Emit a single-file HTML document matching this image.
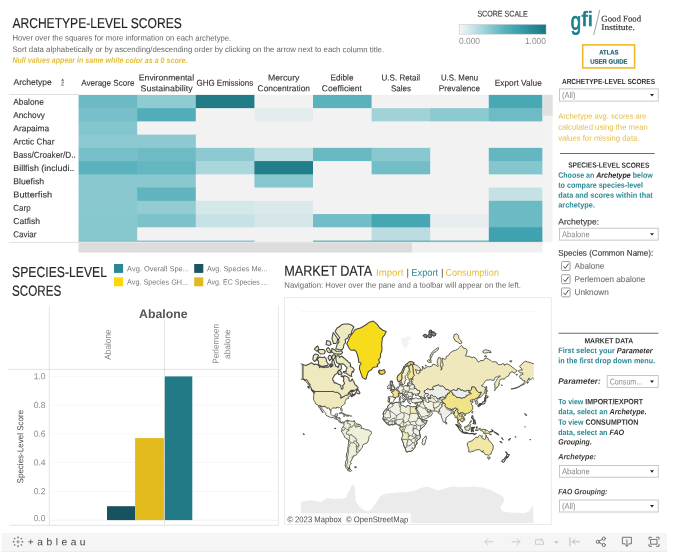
<!DOCTYPE html>
<html lang="en">
<head>
<meta charset="utf-8">
<title>Seafood Atlas Dashboard</title>
<style>
*{box-sizing:border-box;margin:0;padding:0}
html,body{width:680px;height:560px;background:#fff;overflow:hidden}
body{font-family:"Liberation Sans",Arial,sans-serif;position:relative}
#dash{position:absolute;left:0;top:0;width:680px;height:560px;overflow:hidden;background:#fff}
.t{position:absolute;left:0;top:0;white-space:nowrap;line-height:1;transform-origin:0 0}
svg.l{position:absolute;left:0;top:0;overflow:hidden}
</style>
</head>
<body>
<div id="dash">
<section id="archetype-scores" aria-label="Archetype-level scores">
<div class="t" style="font-size:14.30px;color:#262626;transform:translate(12.40px,15.90px) rotate(0.04deg) scaleX(0.8448);-webkit-text-stroke:0.15px #262626;">ARCHETYPE-LEVEL SCORES</div>
<div class="t" style="font-size:8.00px;color:#666;transform:translate(12.40px,34.50px) rotate(0.04deg) scaleX(0.9629);">Hover over the squares for more information on each archetype.</div>
<div class="t" style="font-size:8.00px;color:#666;transform:translate(12.40px,45.90px) rotate(0.04deg) scaleX(0.9719);">Sort data alphabetically or by ascending/descending order by clicking on the arrow next to each column title.</div>
<div class="t" style="font-size:8.00px;color:#e4bc34;font-weight:700;font-style:italic;transform:translate(12.40px,56.80px) rotate(0.04deg) scaleX(0.8864);">Null values appear in same white color as a 0 score.</div>
<div class="t" style="font-size:8.30px;color:#3c3c3c;transform:translate(477.40px,9.60px) rotate(0.04deg) scaleX(0.8537);-webkit-text-stroke:0.15px #3c3c3c;">SCORE SCALE</div>
<svg class="l" width="680" height="560" viewBox="0 0 680 560">
<defs><linearGradient id="sg" x1="0" x2="1" y1="0" y2="0"><stop offset="0" stop-color="#f6f6f6"/><stop offset="0.26" stop-color="#a6d8de"/><stop offset="0.52" stop-color="#57b2bd"/><stop offset="0.76" stop-color="#2f98a4"/><stop offset="1" stop-color="#1a7580"/></linearGradient></defs><rect x="459.15" y="24.45" width="86.9" height="9.7" fill="url(#sg)" stroke="#c4c4c4" stroke-width="0.5"/>
</svg>
<div class="t" style="font-size:8.80px;color:#8a8a8a;transform:translate(459.00px,37.10px) rotate(0.04deg) scaleX(0.9536);">0.000</div>
<div class="t" style="font-size:8.80px;color:#8a8a8a;transform:translate(524.90px,37.10px) rotate(0.04deg) scaleX(0.9582);">1.000</div>
<svg class="l" width="680" height="560" viewBox="0 0 680 560">
<rect x="78.60" y="94.90" width="464.00" height="147.04" fill="#f2f2f2"/>
<rect x="78.60" y="94.90" width="59.30" height="13.94" fill="#6bbac4"/><rect x="137.20" y="94.90" width="59.30" height="13.94" fill="#91cbd2"/><rect x="195.80" y="94.90" width="59.30" height="13.94" fill="#217c88"/><rect x="254.40" y="94.90" width="59.30" height="13.94" fill="#f2f2f2"/><rect x="313.00" y="94.90" width="59.30" height="13.94" fill="#5ab2bd"/><rect x="371.60" y="94.90" width="59.30" height="13.94" fill="#f2f2f2"/><rect x="430.20" y="94.90" width="59.30" height="13.94" fill="#f2f2f2"/><rect x="488.80" y="94.90" width="53.80" height="13.94" fill="#48a8b4"/><rect x="78.60" y="108.14" width="59.30" height="13.94" fill="#78c0c9"/><rect x="137.20" y="108.14" width="59.30" height="13.94" fill="#51adb8"/><rect x="195.80" y="108.14" width="59.30" height="13.94" fill="#f2f2f2"/><rect x="254.40" y="108.14" width="59.30" height="13.94" fill="#e4edee"/><rect x="313.00" y="108.14" width="59.30" height="13.94" fill="#f2f2f2"/><rect x="371.60" y="108.14" width="59.30" height="13.94" fill="#a0d2d8"/><rect x="430.20" y="108.14" width="59.30" height="13.94" fill="#8cc9d0"/><rect x="488.80" y="108.14" width="53.80" height="13.94" fill="#6ebbc5"/><rect x="78.60" y="121.38" width="59.30" height="13.94" fill="#84c6ce"/><rect x="137.20" y="121.38" width="59.30" height="13.94" fill="#f2f2f2"/><rect x="195.80" y="121.38" width="59.30" height="13.94" fill="#f2f2f2"/><rect x="254.40" y="121.38" width="59.30" height="13.94" fill="#f2f2f2"/><rect x="313.00" y="121.38" width="59.30" height="13.94" fill="#f2f2f2"/><rect x="371.60" y="121.38" width="59.30" height="13.94" fill="#f2f2f2"/><rect x="430.20" y="121.38" width="59.30" height="13.94" fill="#f2f2f2"/><rect x="488.80" y="121.38" width="53.80" height="13.94" fill="#f2f2f2"/><rect x="78.60" y="134.62" width="59.30" height="13.94" fill="#8cc9d0"/><rect x="137.20" y="134.62" width="59.30" height="13.94" fill="#8cc9d0"/><rect x="195.80" y="134.62" width="59.30" height="13.94" fill="#f2f2f2"/><rect x="254.40" y="134.62" width="59.30" height="13.94" fill="#f2f2f2"/><rect x="313.00" y="134.62" width="59.30" height="13.94" fill="#f2f2f2"/><rect x="371.60" y="134.62" width="59.30" height="13.94" fill="#f2f2f2"/><rect x="430.20" y="134.62" width="59.30" height="13.94" fill="#f2f2f2"/><rect x="488.80" y="134.62" width="53.80" height="13.94" fill="#f2f2f2"/><rect x="78.60" y="147.86" width="59.30" height="13.94" fill="#78c0c9"/><rect x="137.20" y="147.86" width="59.30" height="13.94" fill="#6ebbc5"/><rect x="195.80" y="147.86" width="59.30" height="13.94" fill="#8cc9d0"/><rect x="254.40" y="147.86" width="59.30" height="13.94" fill="#bddee2"/><rect x="313.00" y="147.86" width="59.30" height="13.94" fill="#69b9c3"/><rect x="371.60" y="147.86" width="59.30" height="13.94" fill="#8ac8cf"/><rect x="430.20" y="147.86" width="59.30" height="13.94" fill="#f2f2f2"/><rect x="488.80" y="147.86" width="53.80" height="13.94" fill="#64b6c1"/><rect x="78.60" y="161.10" width="59.30" height="13.94" fill="#5ab2bd"/><rect x="137.20" y="161.10" width="59.30" height="13.94" fill="#64b6c1"/><rect x="195.80" y="161.10" width="59.30" height="13.94" fill="#aad7dc"/><rect x="254.40" y="161.10" width="59.30" height="13.94" fill="#227e8a"/><rect x="313.00" y="161.10" width="59.30" height="13.94" fill="#f2f2f2"/><rect x="371.60" y="161.10" width="59.30" height="13.94" fill="#73bdc7"/><rect x="430.20" y="161.10" width="59.30" height="13.94" fill="#f2f2f2"/><rect x="488.80" y="161.10" width="53.80" height="13.94" fill="#84c6ce"/><rect x="78.60" y="174.34" width="59.30" height="13.94" fill="#8ac8cf"/><rect x="137.20" y="174.34" width="59.30" height="13.94" fill="#8ac8cf"/><rect x="195.80" y="174.34" width="59.30" height="13.94" fill="#f2f2f2"/><rect x="254.40" y="174.34" width="59.30" height="13.94" fill="#87c7ce"/><rect x="313.00" y="174.34" width="59.30" height="13.94" fill="#f2f2f2"/><rect x="371.60" y="174.34" width="59.30" height="13.94" fill="#f2f2f2"/><rect x="430.20" y="174.34" width="59.30" height="13.94" fill="#f2f2f2"/><rect x="488.80" y="174.34" width="53.80" height="13.94" fill="#f2f2f2"/><rect x="78.60" y="187.58" width="59.30" height="13.94" fill="#8ac8cf"/><rect x="137.20" y="187.58" width="59.30" height="13.94" fill="#5fb4bf"/><rect x="195.80" y="187.58" width="59.30" height="13.94" fill="#f2f2f2"/><rect x="254.40" y="187.58" width="59.30" height="13.94" fill="#f2f2f2"/><rect x="313.00" y="187.58" width="59.30" height="13.94" fill="#f2f2f2"/><rect x="371.60" y="187.58" width="59.30" height="13.94" fill="#f2f2f2"/><rect x="430.20" y="187.58" width="59.30" height="13.94" fill="#f2f2f2"/><rect x="488.80" y="187.58" width="53.80" height="13.94" fill="#c4e1e4"/><rect x="78.60" y="200.82" width="59.30" height="13.94" fill="#8ac8cf"/><rect x="137.20" y="200.82" width="59.30" height="13.94" fill="#94ccd3"/><rect x="195.80" y="200.82" width="59.30" height="13.94" fill="#d5e7e9"/><rect x="254.40" y="200.82" width="59.30" height="13.94" fill="#dae9eb"/><rect x="313.00" y="200.82" width="59.30" height="13.94" fill="#f2f2f2"/><rect x="371.60" y="200.82" width="59.30" height="13.94" fill="#f2f2f2"/><rect x="430.20" y="200.82" width="59.30" height="13.94" fill="#f2f2f2"/><rect x="488.80" y="200.82" width="53.80" height="13.94" fill="#6bbac4"/><rect x="78.60" y="214.06" width="59.30" height="13.94" fill="#87c7ce"/><rect x="137.20" y="214.06" width="59.30" height="13.94" fill="#7dc2cb"/><rect x="195.80" y="214.06" width="59.30" height="13.94" fill="#c7e2e5"/><rect x="254.40" y="214.06" width="59.30" height="13.94" fill="#d5e7e9"/><rect x="313.00" y="214.06" width="59.30" height="13.94" fill="#73bdc7"/><rect x="371.60" y="214.06" width="59.30" height="13.94" fill="#46a7b3"/><rect x="430.20" y="214.06" width="59.30" height="13.94" fill="#e8eeef"/><rect x="488.80" y="214.06" width="53.80" height="13.94" fill="#6bbac4"/><rect x="78.60" y="227.30" width="59.30" height="13.94" fill="#87c7ce"/><rect x="137.20" y="227.30" width="59.30" height="13.94" fill="#f2f2f2"/><rect x="195.80" y="227.30" width="59.30" height="13.94" fill="#f2f2f2"/><rect x="254.40" y="227.30" width="59.30" height="13.94" fill="#f2f2f2"/><rect x="313.00" y="227.30" width="59.30" height="13.94" fill="#f2f2f2"/><rect x="371.60" y="227.30" width="59.30" height="13.94" fill="#bbdde1"/><rect x="430.20" y="227.30" width="59.30" height="13.94" fill="#f2f2f2"/><rect x="488.80" y="227.30" width="53.80" height="13.94" fill="#3fa3af"/>
<rect x="78.60" y="240.54" width="59.10" height="1.40" fill="#87c7ce"/>
<rect x="137.20" y="240.54" width="117.70" height="1.40" fill="#7fc1c9"/>
<rect x="254.40" y="240.54" width="59.10" height="1.40" fill="#f2f2f2"/>
<rect x="313.00" y="240.54" width="176.30" height="1.40" fill="#5cb1bb"/>
<rect x="488.80" y="240.54" width="53.80" height="1.40" fill="#3a9aa6"/>
<rect x="78.60" y="241.94" width="464.00" height="0.60" fill="#fff"/>
<rect x="9.00" y="94.10" width="69.60" height="0.80" fill="#d9d9d9"/>
<rect x="9.00" y="241.90" width="533.60" height="0.70" fill="#d2d2d2"/>
<rect x="542.60" y="94.90" width="10.00" height="147.00" fill="#f3f3f3"/>
<rect x="542.60" y="94.90" width="10.00" height="20.90" fill="#e0e0e0"/>
<rect x="78.60" y="242.60" width="464.00" height="9.80" fill="#f0f0f0"/>
<rect x="78.60" y="242.60" width="333.40" height="9.80" fill="#dcdcdc"/>
</svg>
<div class="t" style="font-size:8.50px;color:#333;transform:translate(13.50px,78.10px) rotate(0.04deg) scaleX(1.0008);-webkit-text-stroke:0.12px #333;">Archetype</div>
<svg class="l" width="680" height="560" viewBox="0 0 680 560">
<g transform="translate(60.1 78.2)"><path d="M2.5 0.4 L4 2.6 H1 Z" fill="#666"/><path d="M1.2 3.9 H3.8 L1.2 7 H3.9" fill="none" stroke="#666" stroke-width="0.7"/></g>
</svg>
<div class="t" style="font-size:8.50px;color:#333;transform:translate(81.20px,78.70px) rotate(0.04deg) scaleX(0.9488);-webkit-text-stroke:0.12px #333;">Average Score</div>
<div class="t" style="font-size:8.50px;color:#333;transform:translate(138.80px,73.50px) rotate(0.04deg) scaleX(1.0178);-webkit-text-stroke:0.12px #333;">Environmental</div>
<div class="t" style="font-size:8.50px;color:#333;transform:translate(140.60px,84.20px) rotate(0.04deg) scaleX(1.0383);-webkit-text-stroke:0.12px #333;">Sustainability</div>
<div class="t" style="font-size:8.50px;color:#333;transform:translate(196.50px,78.70px) rotate(0.04deg) scaleX(0.9379);-webkit-text-stroke:0.12px #333;">GHG Emissions</div>
<div class="t" style="font-size:8.50px;color:#333;transform:translate(268.00px,73.50px) rotate(0.04deg) scaleX(1.0229);-webkit-text-stroke:0.12px #333;">Mercury</div>
<div class="t" style="font-size:8.50px;color:#333;transform:translate(257.60px,84.20px) rotate(0.04deg) scaleX(0.9901);-webkit-text-stroke:0.12px #333;">Concentration</div>
<div class="t" style="font-size:8.50px;color:#333;transform:translate(330.60px,73.50px) rotate(0.04deg) scaleX(0.9692);-webkit-text-stroke:0.12px #333;">Edible</div>
<div class="t" style="font-size:8.50px;color:#333;transform:translate(321.80px,84.20px) rotate(0.04deg) scaleX(1.0049);-webkit-text-stroke:0.12px #333;">Coefficient</div>
<div class="t" style="font-size:8.50px;color:#333;transform:translate(381.50px,73.50px) rotate(0.04deg) scaleX(0.9477);-webkit-text-stroke:0.12px #333;">U.S. Retail</div>
<div class="t" style="font-size:8.50px;color:#333;transform:translate(390.90px,84.20px) rotate(0.04deg) scaleX(0.9406);-webkit-text-stroke:0.12px #333;">Sales</div>
<div class="t" style="font-size:8.50px;color:#333;transform:translate(440.90px,73.50px) rotate(0.04deg) scaleX(0.9239);-webkit-text-stroke:0.12px #333;">U.S. Menu</div>
<div class="t" style="font-size:8.50px;color:#333;transform:translate(438.80px,84.20px) rotate(0.04deg) scaleX(0.9688);-webkit-text-stroke:0.12px #333;">Prevalence</div>
<div class="t" style="font-size:8.50px;color:#333;transform:translate(494.70px,78.70px) rotate(0.04deg) scaleX(0.9805);-webkit-text-stroke:0.12px #333;">Export Value</div>
<div class="t" style="font-size:8.50px;color:#333;transform:translate(13.30px,97.82px) rotate(0.04deg) scaleX(0.9777);-webkit-text-stroke:0.12px #333;">Abalone</div>
<div class="t" style="font-size:8.50px;color:#333;transform:translate(13.30px,111.06px) rotate(0.04deg) scaleX(0.9693);-webkit-text-stroke:0.12px #333;">Anchovy</div>
<div class="t" style="font-size:8.50px;color:#333;transform:translate(13.30px,124.30px) rotate(0.04deg) scaleX(0.9896);-webkit-text-stroke:0.12px #333;">Arapaima</div>
<div class="t" style="font-size:8.50px;color:#333;transform:translate(13.30px,137.54px) rotate(0.04deg) scaleX(0.9778);-webkit-text-stroke:0.12px #333;">Arctic Char</div>
<div class="t" style="font-size:8.50px;color:#333;transform:translate(13.30px,150.78px) rotate(0.04deg) scaleX(0.9643);-webkit-text-stroke:0.12px #333;">Bass/Croaker/D..</div>
<div class="t" style="font-size:8.50px;color:#333;transform:translate(13.30px,164.02px) rotate(0.04deg) scaleX(1.0414);-webkit-text-stroke:0.12px #333;">Billfish (includi..</div>
<div class="t" style="font-size:8.50px;color:#333;transform:translate(13.30px,177.26px) rotate(0.04deg) scaleX(1.0185);-webkit-text-stroke:0.12px #333;">Bluefish</div>
<div class="t" style="font-size:8.50px;color:#333;transform:translate(13.30px,190.50px) rotate(0.04deg) scaleX(1.0834);-webkit-text-stroke:0.12px #333;">Butterfish</div>
<div class="t" style="font-size:8.50px;color:#333;transform:translate(13.30px,203.74px) rotate(0.04deg) scaleX(0.9390);-webkit-text-stroke:0.12px #333;">Carp</div>
<div class="t" style="font-size:8.50px;color:#333;transform:translate(13.30px,216.98px) rotate(0.04deg) scaleX(1.0093);-webkit-text-stroke:0.12px #333;">Catfish</div>
<div class="t" style="font-size:8.50px;color:#333;transform:translate(13.30px,230.22px) rotate(0.04deg) scaleX(0.9445);-webkit-text-stroke:0.12px #333;">Caviar</div>
</section>
<aside id="filters" aria-label="Filters and guide">
<div class="t" style="font-size:25.00px;color:#187e89;transform:translate(570.70px,8.60px) rotate(0.04deg) scaleX(0.7408);-webkit-text-stroke:0.8px #187e89;">g</div>
<div class="t" style="font-size:20.60px;color:#187e89;transform:translate(581.60px,8.90px) rotate(0.04deg) scaleX(1.0874);-webkit-text-stroke:0.6px #187e89;">fi</div>
<svg class="l" width="680" height="560" viewBox="0 0 680 560">
<g transform="translate(591 8)"><line x1="8.7" y1="2" x2="2.7" y2="27.1" stroke="#8a8a8a" stroke-width="0.8"/></g>
</svg>
<div class="t" style="font-size:8.60px;color:#3c3c3c;font-family:'Liberation Serif',serif;transform:translate(601.30px,14.50px) rotate(0.04deg) scaleX(1.0246);-webkit-text-stroke:0.2px #3c3c3c;">Good Food</div>
<div class="t" style="font-size:8.60px;color:#3c3c3c;font-family:'Liberation Serif',serif;transform:translate(601.30px,22.90px) rotate(0.04deg) scaleX(1.1043);-webkit-text-stroke:0.2px #3c3c3c;">Institute.</div>
<svg class="l" width="680" height="560" viewBox="0 0 680 560">
<rect x="582.70" y="44.90" width="51.90" height="23.00" fill="#fff" stroke="#f1b929" stroke-width="1.6"/>
</svg>
<div class="t" style="font-size:6.60px;color:#1a5f6a;font-weight:700;transform:translate(599.30px,49.60px) rotate(0.04deg) scaleX(0.8927);-webkit-text-stroke:0.15px #1a5f6a;">ATLAS</div>
<div class="t" style="font-size:6.60px;color:#1a5f6a;font-weight:700;transform:translate(590.20px,58.80px) rotate(0.04deg) scaleX(0.9106);-webkit-text-stroke:0.15px #1a5f6a;">USER GUIDE</div>
<div class="t" style="font-size:7.40px;color:#333;font-weight:700;transform:translate(561.90px,78.00px) rotate(0.04deg) scaleX(0.8875);">ARCHETYPE-LEVEL SCORES</div>
<svg class="l" width="680" height="560" viewBox="0 0 680 560">
<rect x="559.40" y="88.90" width="98.80" height="12.20" fill="#fff" stroke="#b9b9b9" stroke-width="0.8"/>
</svg>
<div class="t" style="font-size:8.60px;color:#8c8c8c;transform:translate(561.90px,91.00px) rotate(0.04deg) scaleX(0.8850);">(All)</div>
<svg class="l" width="680" height="560" viewBox="0 0 680 560">
<g transform="translate(649.00 93.30)"><path d="M1 0.7 H5 L3 3.1 Z" fill="#222"/></g>
</svg>
<div class="t" style="font-size:8.00px;color:#e6bd45;transform:translate(558.20px,112.80px) rotate(0.04deg) scaleX(0.9512);">Archetype avg. scores are</div>
<div class="t" style="font-size:8.00px;color:#e6bd45;transform:translate(558.20px,123.80px) rotate(0.04deg) scaleX(0.9650);">calculated using the mean</div>
<div class="t" style="font-size:8.00px;color:#e6bd45;transform:translate(558.20px,134.70px) rotate(0.04deg) scaleX(0.9674);">values for missing data.</div>
<svg class="l" width="680" height="560" viewBox="0 0 680 560">
<rect x="560.00" y="153.10" width="94.60" height="0.80" fill="#444"/>
</svg>
<div class="t" style="font-size:7.40px;color:#333;font-weight:700;transform:translate(568.20px,161.60px) rotate(0.04deg) scaleX(0.8868);">SPECIES-LEVEL SCORES</div>
<div class="t" style="font-size:7.80px;color:#2a8894;font-weight:700;transform:translate(558.20px,171.70px) rotate(0.04deg) scaleX(0.9047);">Choose an <span style="font-style:italic;color:#222;">Archetype</span> below</div>
<div class="t" style="font-size:7.80px;color:#2a8894;font-weight:700;transform:translate(558.20px,181.70px) rotate(0.04deg) scaleX(0.9151);">to compare species-level</div>
<div class="t" style="font-size:7.80px;color:#2a8894;font-weight:700;transform:translate(558.20px,191.80px) rotate(0.04deg) scaleX(0.9398);">data and scores within that</div>
<div class="t" style="font-size:7.80px;color:#2a8894;font-weight:700;transform:translate(558.20px,201.60px) rotate(0.04deg) scaleX(0.9431);">archetype.</div>
<div class="t" style="font-size:8.30px;color:#3d3d3d;transform:translate(558.20px,217.60px) rotate(0.04deg) scaleX(1.0308);-webkit-text-stroke:0.15px #3d3d3d;">Archetype:</div>
<svg class="l" width="680" height="560" viewBox="0 0 680 560">
<rect x="559.40" y="228.20" width="98.80" height="11.90" fill="#fff" stroke="#b9b9b9" stroke-width="0.8"/>
</svg>
<div class="t" style="font-size:8.60px;color:#8c8c8c;transform:translate(561.90px,230.15px) rotate(0.04deg) scaleX(0.8850);">Abalone</div>
<svg class="l" width="680" height="560" viewBox="0 0 680 560">
<g transform="translate(649.00 232.45)"><path d="M1 0.7 H5 L3 3.1 Z" fill="#222"/></g>
</svg>
<div class="t" style="font-size:8.30px;color:#3d3d3d;transform:translate(558.20px,248.70px) rotate(0.04deg) scaleX(0.9725);-webkit-text-stroke:0.15px #3d3d3d;">Species (Common Name):</div>
<svg class="l" width="680" height="560" viewBox="0 0 680 560">
<rect x="561.55" y="261.55" width="8.50" height="8.90" rx="1" fill="#fff" stroke="#959595" stroke-width="0.9"/>
<g transform="translate(561 261.10)"><path d="M2.4 5.2 L4.2 7.3 L7.6 2.5" fill="none" stroke="#444" stroke-width="1"/></g>
</svg>
<div class="t" style="font-size:8.40px;color:#707070;transform:translate(574.50px,261.70px) rotate(0.04deg) scaleX(0.9732);-webkit-text-stroke:0.1px #707070;">Abalone</div>
<svg class="l" width="680" height="560" viewBox="0 0 680 560">
<rect x="561.55" y="274.75" width="8.50" height="8.90" rx="1" fill="#fff" stroke="#959595" stroke-width="0.9"/>
<g transform="translate(561 274.30)"><path d="M2.4 5.2 L4.2 7.3 L7.6 2.5" fill="none" stroke="#444" stroke-width="1"/></g>
</svg>
<div class="t" style="font-size:8.40px;color:#707070;transform:translate(574.50px,274.90px) rotate(0.04deg) scaleX(0.9760);-webkit-text-stroke:0.1px #707070;">Perlemoen abalone</div>
<svg class="l" width="680" height="560" viewBox="0 0 680 560">
<rect x="561.55" y="287.95" width="8.50" height="8.90" rx="1" fill="#fff" stroke="#959595" stroke-width="0.9"/>
<g transform="translate(561 287.50)"><path d="M2.4 5.2 L4.2 7.3 L7.6 2.5" fill="none" stroke="#444" stroke-width="1"/></g>
</svg>
<div class="t" style="font-size:8.40px;color:#707070;transform:translate(574.50px,288.10px) rotate(0.04deg) scaleX(0.9823);-webkit-text-stroke:0.1px #707070;">Unknown</div>
<svg class="l" width="680" height="560" viewBox="0 0 680 560">
<rect x="558.60" y="332.80" width="99.80" height="0.80" fill="#444"/>
</svg>
<div class="t" style="font-size:7.40px;color:#333;font-weight:700;transform:translate(584.40px,337.20px) rotate(0.04deg) scaleX(0.9179);">MARKET DATA</div>
<div class="t" style="font-size:7.80px;color:#2a8894;font-weight:700;transform:translate(558.20px,347.10px) rotate(0.04deg) scaleX(0.9395);">First select your <span style="font-style:italic;color:#333;">Parameter</span></div>
<div class="t" style="font-size:7.80px;color:#2a8894;font-weight:700;transform:translate(558.20px,357.20px) rotate(0.04deg) scaleX(0.9250);">in the first drop down menu.</div>
<div class="t" style="font-size:8.00px;color:#333;font-weight:700;font-style:italic;transform:translate(558.20px,377.70px) rotate(0.04deg) scaleX(1.0167);">Parameter:</div>
<svg class="l" width="680" height="560" viewBox="0 0 680 560">
<rect x="607.20" y="375.60" width="51.00" height="11.80" fill="#fff" stroke="#b9b9b9" stroke-width="0.8"/>
</svg>
<div class="t" style="font-size:8.60px;color:#8c8c8c;transform:translate(609.70px,377.50px) rotate(0.04deg) scaleX(0.8318);">Consum...</div>
<svg class="l" width="680" height="560" viewBox="0 0 680 560">
<g transform="translate(649.00 379.80)"><path d="M1 0.7 H5 L3 3.1 Z" fill="#222"/></g>
</svg>
<div class="t" style="font-size:7.80px;color:#2a8894;font-weight:700;transform:translate(558.20px,398.30px) rotate(0.04deg) scaleX(0.8959);">To view <span style="color:#333;">IMPORT/EXPORT</span></div>
<div class="t" style="font-size:7.80px;color:#2a8894;font-weight:700;transform:translate(558.20px,408.20px) rotate(0.04deg) scaleX(0.9185);">data, select an <span style="font-style:italic;color:#333;">Archetype</span><span style="color:#333;">.</span></div>
<div class="t" style="font-size:7.80px;color:#2a8894;font-weight:700;transform:translate(558.20px,418.70px) rotate(0.04deg) scaleX(0.9031);">To view <span style="color:#333;">CONSUMPTION</span></div>
<div class="t" style="font-size:7.80px;color:#2a8894;font-weight:700;transform:translate(558.20px,428.90px) rotate(0.04deg) scaleX(0.9172);">data, select an <span style="font-style:italic;color:#333;">FAO</span></div>
<div class="t" style="font-size:7.80px;color:#333;font-weight:700;transform:translate(558.20px,438.60px) rotate(0.04deg) scaleX(0.8991);"><span style="font-style:italic;">Grouping</span>.</div>
<div class="t" style="font-size:7.80px;color:#444;font-weight:700;font-style:italic;transform:translate(558.20px,453.30px) rotate(0.04deg) scaleX(0.9253);">Archetype:</div>
<svg class="l" width="680" height="560" viewBox="0 0 680 560">
<rect x="559.40" y="465.40" width="98.80" height="11.80" fill="#fff" stroke="#b9b9b9" stroke-width="0.8"/>
</svg>
<div class="t" style="font-size:8.60px;color:#8c8c8c;transform:translate(561.90px,467.30px) rotate(0.04deg) scaleX(0.8850);">Abalone</div>
<svg class="l" width="680" height="560" viewBox="0 0 680 560">
<g transform="translate(649.00 469.60)"><path d="M1 0.7 H5 L3 3.1 Z" fill="#222"/></g>
</svg>
<div class="t" style="font-size:7.80px;color:#444;font-weight:700;font-style:italic;transform:translate(558.20px,488.30px) rotate(0.04deg) scaleX(0.8803);">FAO Grouping:</div>
<svg class="l" width="680" height="560" viewBox="0 0 680 560">
<rect x="559.40" y="500.00" width="98.80" height="12.00" fill="#fff" stroke="#b9b9b9" stroke-width="0.8"/>
</svg>
<div class="t" style="font-size:8.60px;color:#8c8c8c;transform:translate(561.90px,502.00px) rotate(0.04deg) scaleX(0.8850);">(All)</div>
<svg class="l" width="680" height="560" viewBox="0 0 680 560">
<g transform="translate(649.00 504.30)"><path d="M1 0.7 H5 L3 3.1 Z" fill="#222"/></g>
</svg>
</aside>
<section id="species-scores" aria-label="Species-level scores">
<div class="t" style="font-size:14.60px;color:#262626;transform:translate(12.10px,264.90px) rotate(0.04deg) scaleX(0.8353);-webkit-text-stroke:0.15px #262626;">SPECIES-LEVEL</div>
<div class="t" style="font-size:14.60px;color:#262626;transform:translate(12.10px,283.70px) rotate(0.04deg) scaleX(0.7980);-webkit-text-stroke:0.15px #262626;">SCORES</div>
<svg class="l" width="680" height="560" viewBox="0 0 680 560">
<rect x="114.00" y="264.00" width="9.10" height="8.90" fill="#2a8793"/>
</svg>
<div class="t" style="font-size:7.50px;color:#777;transform:translate(127.10px,265.20px) rotate(0.04deg) scaleX(0.9905);">Avg. Overall Spe...</div>
<svg class="l" width="680" height="560" viewBox="0 0 680 560">
<rect x="114.00" y="277.40" width="9.10" height="8.90" fill="#fdd60a"/>
</svg>
<div class="t" style="font-size:7.50px;color:#777;transform:translate(127.10px,278.60px) rotate(0.04deg) scaleX(0.9633);">Avg. Species GH...</div>
<svg class="l" width="680" height="560" viewBox="0 0 680 560">
<rect x="194.20" y="264.00" width="9.10" height="8.90" fill="#1b5662"/>
</svg>
<div class="t" style="font-size:7.50px;color:#777;transform:translate(207.00px,265.20px) rotate(0.04deg) scaleX(0.9713);">Avg. Species Me...</div>
<svg class="l" width="680" height="560" viewBox="0 0 680 560">
<rect x="194.20" y="277.40" width="9.10" height="8.90" fill="#e2b822"/>
</svg>
<div class="t" style="font-size:7.50px;color:#777;transform:translate(207.00px,278.60px) rotate(0.04deg) scaleX(0.9399);">Avg. EC Species ...</div>
<div class="t" style="font-size:12.20px;color:#555;font-weight:700;transform:translate(139.10px,307.90px) rotate(0.04deg) scaleX(1.0057);">Abalone</div>
<svg class="l" width="680" height="560" viewBox="0 0 680 560">
<rect x="48.90" y="306.30" width="0.80" height="219.20" fill="#dddddd"/>
<rect x="164.00" y="319.30" width="0.80" height="206.20" fill="#dddddd"/>
<rect x="277.90" y="305.90" width="0.80" height="219.60" fill="#e0e0e0"/>
<rect x="8.40" y="368.90" width="270.00" height="0.80" fill="#dddddd"/>
<rect x="9.30" y="524.80" width="269.40" height="0.90" fill="#e0e0e0"/>
<rect x="49.50" y="376.10" width="228.50" height="0.60" fill="#f3f3f3"/>
<rect x="49.50" y="404.84" width="228.50" height="0.60" fill="#f3f3f3"/>
<rect x="49.50" y="433.58" width="228.50" height="0.60" fill="#f3f3f3"/>
<rect x="49.50" y="462.32" width="228.50" height="0.60" fill="#f3f3f3"/>
<rect x="49.50" y="491.06" width="228.50" height="0.60" fill="#f3f3f3"/>
<rect x="49.50" y="519.80" width="228.50" height="0.70" fill="#ebebeb"/>
</svg>
<div class="t" style="font-size:8.80px;color:#8a8a8a;transform:translate(33.70px,372.30px) rotate(0.04deg) scaleX(0.9728);">1.0</div>
<div class="t" style="font-size:8.80px;color:#8a8a8a;transform:translate(33.70px,401.04px) rotate(0.04deg) scaleX(0.9728);">0.8</div>
<div class="t" style="font-size:8.80px;color:#8a8a8a;transform:translate(33.70px,429.78px) rotate(0.04deg) scaleX(0.9728);">0.6</div>
<div class="t" style="font-size:8.80px;color:#8a8a8a;transform:translate(33.70px,458.52px) rotate(0.04deg) scaleX(0.9728);">0.4</div>
<div class="t" style="font-size:8.80px;color:#8a8a8a;transform:translate(33.70px,487.26px) rotate(0.04deg) scaleX(0.9728);">0.2</div>
<div class="t" style="font-size:8.80px;color:#8a8a8a;transform:translate(33.70px,514.30px) rotate(0.04deg) scaleX(0.9728);">0.0</div>
<svg class="l" width="680" height="560" viewBox="0 0 680 560">
<rect x="107.00" y="506.20" width="28.10" height="13.90" fill="#17535f"/>
<rect x="135.10" y="438.10" width="28.80" height="82.00" fill="#e3ba1c"/>
<rect x="164.80" y="376.40" width="27.50" height="143.70" fill="#217a86"/>
</svg>
<div class="t" style="font-size:8.80px;color:#888;transform:translate(103.80px,359.70px) rotate(-89.96deg) scaleX(0.9413);">Abalone</div>
<div class="t" style="font-size:8.80px;color:#888;transform:translate(211.80px,363.70px) rotate(-89.96deg) scaleX(0.9329);">Perlemoen</div>
<div class="t" style="font-size:8.80px;color:#888;transform:translate(223.30px,359.00px) rotate(-89.96deg) scaleX(0.9483);">abalone</div>
<div class="t" style="font-size:8.60px;color:#4a4a4a;transform:translate(16.20px,483.40px) rotate(-89.96deg) scaleX(0.9331);">Species-Level Score</div>
</section>
<section id="market-data" aria-label="Market data">
<div class="t" style="font-size:14.60px;color:#262626;transform:translate(284.30px,263.70px) rotate(0.04deg) scaleX(0.8659);-webkit-text-stroke:0.15px #262626;">MARKET DATA</div>
<div class="t" style="font-size:9.60px;color:#e3bd2e;transform:translate(376.00px,267.70px) rotate(0.04deg) scaleX(1.0071);">Import</div>
<div class="t" style="font-size:9.60px;color:#444;transform:translate(406.60px,267.70px) rotate(0.04deg) scaleX(1.0000);">|</div>
<div class="t" style="font-size:9.60px;color:#2a8894;transform:translate(411.30px,267.70px) rotate(0.04deg) scaleX(0.9695);">Export</div>
<div class="t" style="font-size:9.60px;color:#444;transform:translate(441.00px,267.70px) rotate(0.04deg) scaleX(1.0000);">|</div>
<div class="t" style="font-size:9.60px;color:#e3bd2e;transform:translate(445.40px,267.70px) rotate(0.04deg) scaleX(0.9476);">Consumption</div>
<div class="t" style="font-size:8.00px;color:#666;transform:translate(284.30px,281.70px) rotate(0.04deg) scaleX(0.9708);">Navigation: Hover over the pane and a toolbar will appear on the left.</div>
<svg class="l" width="680" height="560" viewBox="0 0 680 560">
<rect x="284.40" y="297.70" width="266.90" height="226.80" fill="#fff" stroke="#e6e6e6" stroke-width="0.8"/>
<rect x="300.40" y="311.00" width="235.50" height="0.60" fill="#f3f3f3"/>
</svg>
<svg class="l" width="680" height="560" viewBox="0 0 680 560" aria-label="World map">
<defs><clipPath id="mapclip"><rect x="300.8" y="311.3" width="233.0" height="212.0"/></clipPath></defs>
<g clip-path="url(#mapclip)">
<path d="M300.6 502.1L305.5 501.3L310.9 500.1L316.2 500.9L321.2 502.1L324.5 499.6L327.4 498.0L332.7 498.8L337.6 498.8L341.8 498.4L345.9 498.0L347.9 492.6L349.6 490.6L350.8 487.3L352.5 484.8L353.3 484.4L354.5 486.5L354.9 489.4L355.4 495.5L355.8 500.9L358.2 505.0L362.4 509.1L365.6 510.8L368.5 511.2L371.0 509.5L373.1 507.1L375.1 503.8L377.2 500.9L379.2 497.6L381.3 495.5L384.2 494.3L387.1 493.5L393.2 493.1L399.4 492.6L405.6 492.2L411.8 491.4L416.3 490.2L420.0 488.5L423.3 487.3L426.2 486.5L429.5 487.3L432.4 488.5L435.6 489.8L438.5 490.6L441.8 489.8L444.7 488.5L448.8 487.3L452.9 486.5L457.1 486.9L461.2 487.3L467.4 486.9L473.5 486.5L477.6 486.9L481.8 487.3L485.9 488.5L490.0 489.8L494.1 491.8L498.2 493.9L501.1 495.5L503.6 497.2L504.0 500.1L503.2 502.9L501.1 505.4L500.3 507.1L501.1 509.5L502.8 511.2L506.5 512.0L510.6 512.4L516.8 512.8L522.9 513.2L526.6 512.4L529.1 511.2L530.8 508.7L532.0 506.2L533.2 505.8L533.8 524.2L300.6 524.2Z" fill="#ebebeb"/>
<path d="M401.1 338.8L403.1 338.1L405.0 337.3L407.6 336.2L410.8 336.6L411.5 338.4L408.9 340.2L407.6 342.6L409.5 343.5L408.2 345.7L405.6 348.3L404.0 347.8L403.1 345.7L401.4 342.9L401.1 338.8Z" fill="#f3f3f3"/>
<path d="M343.9 422.4L344.3 422.2L345.2 421.0L345.8 420.8L346.8 420.5L347.7 420.0L347.6 420.8L348.1 420.8L348.1 421.8L347.7 421.2L348.7 420.4L349.7 421.0L351.3 421.1L352.3 421.4L353.2 421.0L354.2 421.0L353.6 421.5L354.5 421.8L355.2 422.5L356.2 423.5L357.1 424.1L358.1 424.2L359.1 424.2L360.0 424.8L360.7 425.1L361.0 426.1L361.6 427.0L361.6 427.8L360.7 428.3L362.6 428.3L362.9 428.6L364.2 428.8L365.2 429.6L365.9 429.5L367.1 429.9L368.1 429.8L369.1 430.4L370.1 431.1L371.2 431.4L371.5 432.5L371.4 433.8L370.4 434.8L369.7 435.6L369.1 436.5L368.8 437.5L368.8 438.8L368.6 439.7L368.2 440.9L367.5 442.2L366.8 443.3L365.9 443.3L364.9 443.9L363.9 444.2L362.9 444.9L362.6 445.8L362.4 447.3L361.6 448.2L361.0 449.1L360.2 450.0L359.4 451.4L358.4 452.2L357.4 452.0L356.8 451.8L356.2 451.4L357.0 452.6L357.1 453.4L356.7 454.6L355.8 455.2L354.5 455.4L353.8 455.4L353.7 457.0L351.9 457.1L352.6 458.3L351.9 459.1L351.6 460.7L350.3 461.6L350.3 462.3L351.4 463.0L350.3 464.5L349.7 465.8L349.4 467.0L349.8 468.1L349.0 468.1L348.2 468.6L348.1 469.5L347.4 469.2L346.4 468.6L345.8 467.5L345.3 466.0L345.2 464.5L345.8 463.0L345.2 462.1L346.1 461.1L346.4 459.8L346.8 458.4L346.3 457.6L346.3 456.3L346.6 455.0L346.4 453.8L347.1 452.6L347.7 450.6L347.7 448.4L348.1 446.5L348.4 444.7L348.6 442.6L348.5 440.2L347.9 439.5L347.1 439.0L345.5 438.1L344.6 437.0L344.2 435.8L343.5 434.7L342.9 433.5L342.4 432.5L341.6 431.9L341.4 430.9L342.0 430.2L342.4 429.6L341.7 429.4L341.6 428.6L342.2 427.9L342.2 427.5L343.0 427.0L343.2 426.4L343.9 425.9L344.0 425.1L343.9 424.1L343.9 423.5L343.7 423.3L344.0 422.8L343.9 422.4Z" fill="#eff0da" stroke="#44443f" stroke-width="0.85" stroke-linejoin="round"/>
<path d="M349.6 468.3L348.5 468.4L348.4 469.5L347.4 470.0L348.1 470.8L349.4 471.1L350.7 471.4L351.8 470.5L351.0 469.7L350.0 468.9L349.6 468.3Z" fill="#eff0da" stroke="#44443f" stroke-width="0.85" stroke-linejoin="round"/>
<path d="M354.5 466.8L356.5 466.8L356.2 467.7L354.9 467.7Z" fill="#f3f3e6" stroke="#44443f" stroke-width="0.85" stroke-linejoin="round"/>
<path d="M354.0 421.0L354.6 421.0L354.5 421.4L354.0 421.4Z" fill="#f3f3e6" stroke="#44443f" stroke-width="0.85" stroke-linejoin="round"/>
<path d="M302.8 364.4L302.8 378.8L304.1 379.2L305.0 380.6L306.3 379.6L307.6 381.1L308.7 383.5L309.9 384.1L309.8 385.4L310.2 386.9L311.2 387.9L311.5 389.5L313.1 390.5L314.4 391.5L314.4 391.5L332.5 391.5L332.7 391.2L334.5 392.2L336.4 392.5L336.9 392.2L339.1 393.7L339.7 394.1L340.6 395.1L340.8 396.9L340.3 398.0L340.6 398.3L342.9 397.3L342.9 396.8L344.5 396.4L344.6 396.1L345.7 395.3L347.7 395.3L348.2 395.0L348.7 393.9L349.2 393.1L350.0 393.2L350.1 394.4L350.3 395.1L350.7 395.4L351.3 395.1L352.3 394.9L351.3 396.2L351.6 396.7L352.9 395.8L354.5 395.1L355.2 394.4L354.9 393.5L354.2 394.5L352.9 394.4L352.1 393.5L351.9 392.5L352.4 391.7L351.3 391.3L349.7 392.0L348.7 393.5L348.1 393.7L349.0 392.3L350.3 391.1L351.0 390.3L353.2 390.2L355.2 390.2L356.5 389.2L357.8 388.5L358.0 387.4L356.8 386.3L356.5 385.4L355.2 384.9L354.2 383.1L353.9 381.7L352.9 380.5L352.3 378.8L351.6 379.8L351.3 380.7L350.0 381.3L349.0 380.5L349.0 378.1L348.1 377.7L347.4 376.9L346.1 376.1L343.9 375.8L343.5 377.9L343.9 379.4L343.2 380.8L344.2 382.3L344.5 383.5L343.5 384.9L342.6 385.5L342.9 386.9L343.0 388.5L342.6 389.0L341.9 389.3L340.9 387.6L340.8 385.2L339.0 384.6L337.1 383.5L335.4 382.7L334.2 382.9L333.8 380.8L332.9 380.5L332.7 378.5L333.8 376.5L334.5 375.4L335.3 374.4L336.7 373.7L337.4 372.9L338.4 370.6L339.0 370.1L340.0 370.1L341.3 369.0L341.3 366.4L340.9 364.2L339.0 364.0L338.7 366.1L338.0 367.8L337.1 366.4L335.8 366.4L335.4 365.0L334.8 363.7L333.8 360.7L332.9 359.7L331.9 361.7L331.9 363.7L333.2 365.0L332.2 366.4L330.6 367.3L330.3 364.6L328.3 367.3L326.7 367.3L326.1 366.8L324.1 367.8L323.8 366.8L322.8 367.3L320.2 366.8L319.6 367.6L318.9 365.5L315.7 364.0L314.1 364.8L313.1 363.7L311.8 363.1L311.2 362.7L309.9 363.7L307.9 364.6L306.0 365.5L304.4 365.0L302.8 364.4ZM355.6 392.9L356.8 392.9L357.8 393.7L359.1 393.7L359.7 393.7L359.9 392.8L359.4 392.0L359.2 391.3L358.0 390.5L358.1 389.0L356.9 390.0L356.2 391.5L355.6 392.9ZM311.0 389.7L312.8 390.2L314.1 392.0L313.1 391.8L311.0 389.7ZM307.9 386.2L308.8 386.3L309.1 388.3L307.9 387.1ZM352.6 390.6L354.0 391.2L353.9 391.5L352.3 390.8ZM354.2 369.8L353.2 372.2L352.3 371.4L351.3 375.1L351.9 376.6L349.7 375.8L347.7 374.4L346.1 372.9L343.9 372.9L343.5 371.4L346.1 371.4L346.1 369.8L347.1 368.1L346.8 367.3L345.5 366.2L344.2 364.6L342.9 363.7L340.9 364.0L339.7 363.7L338.4 363.3L336.7 362.7L336.1 360.7L335.8 356.4L337.1 355.7L339.0 355.7L339.3 357.5L341.6 356.0L343.9 358.0L344.8 358.6L346.1 360.1L347.4 360.7L348.4 362.3L350.0 362.9L350.7 365.5L350.0 366.4L351.9 367.3L353.2 368.1L354.2 369.8ZM326.1 365.5L324.1 366.2L320.9 366.2L319.3 365.0L318.3 363.7L318.6 361.1L317.3 360.3L318.0 358.2L319.9 356.9L322.8 357.5L324.4 356.9L326.1 358.6L326.4 361.1L327.4 362.7L328.3 364.0L327.4 365.9L326.1 365.5ZM312.8 359.3L314.4 361.5L316.0 360.5L317.1 358.0L318.6 355.7L317.7 354.5L315.1 354.1L313.4 355.7L312.8 359.3ZM335.8 348.9L339.0 349.4L342.2 349.7L343.5 347.5L343.9 344.5L345.5 342.9L345.2 339.5L348.1 337.7L348.7 335.0L351.3 333.8L351.9 330.8L353.9 327.0L351.3 324.9L348.7 323.9L344.8 323.9L342.2 324.4L339.0 327.0L337.1 328.0L335.1 331.6L337.7 335.0L339.7 337.7L338.4 339.5L339.0 342.2L337.4 343.9L336.4 346.6L335.8 348.9ZM334.5 353.8L337.1 354.1L340.9 354.1L342.6 352.8L341.6 350.8L339.0 351.3L336.4 351.3L334.2 349.4L331.9 348.6L331.6 351.6L334.5 353.8ZM331.9 338.4L333.5 343.5L335.8 343.5L337.1 342.2L337.7 338.8L335.1 335.0L333.2 332.5L331.9 338.4ZM318.3 352.1L320.9 354.1L324.1 353.8L325.4 351.6L323.5 349.4L320.9 349.4L318.3 350.0L318.3 352.1ZM328.0 357.5L329.6 360.7L331.6 358.6L331.2 356.0L329.3 355.3L328.0 357.5ZM332.2 359.1L333.5 359.7L335.1 357.5L335.4 355.3L333.2 354.8L332.0 356.4L332.2 359.1ZM337.7 371.4L338.7 374.7L340.3 374.1L341.6 374.4L342.1 372.9L340.0 370.9L339.0 370.6L337.7 371.4ZM329.3 348.6L331.2 352.8L329.3 352.8L327.4 351.6L326.4 349.2L328.0 347.5L329.3 348.6ZM314.4 349.4L317.0 351.3L318.9 348.9L317.7 346.0L315.7 347.5L314.4 349.4ZM326.1 344.5L329.3 345.4L331.2 344.5L329.9 341.2L326.7 340.6L326.1 344.5ZM329.9 365.5L331.9 366.4L331.6 364.0L329.9 363.9ZM342.2 375.8L343.2 376.2L342.2 376.9L340.9 376.1Z" fill="#efe9c0" stroke="#44443f" stroke-width="1.05" stroke-linejoin="round"/>
<path d="M314.4 391.5L332.5 391.5L332.7 391.2L334.5 392.2L336.4 392.5L336.9 392.2L339.1 393.7L339.7 394.1L340.6 395.1L340.8 396.9L340.3 398.0L340.6 398.3L342.9 397.3L342.9 396.8L344.5 396.4L344.6 396.1L345.7 395.3L347.7 395.3L348.2 395.0L348.7 393.9L349.2 393.1L350.0 393.2L350.1 394.4L350.3 395.1L350.7 395.4L350.7 395.8L349.7 396.1L348.7 396.5L348.3 397.3L348.4 398.0L348.7 398.4L347.7 398.5L346.4 398.9L346.1 399.3L346.0 400.1L345.5 400.7L345.2 401.4L344.8 402.2L345.0 402.6L345.2 403.6L344.4 404.0L343.5 404.7L342.9 405.2L341.7 406.1L341.4 406.9L341.4 407.6L341.9 408.9L342.2 409.8L342.1 411.1L341.6 411.2L341.1 410.6L340.5 409.3L340.5 408.4L339.7 407.6L338.7 407.9L338.0 407.3L337.1 407.4L336.2 407.5L336.3 408.3L335.4 408.2L334.8 408.0L333.8 407.9L332.7 408.1L331.6 408.8L331.0 409.5L331.0 410.6L329.8 410.0L329.6 409.5L329.0 408.5L328.3 407.8L327.4 408.4L326.4 407.9L325.1 406.3L324.0 406.3L324.0 406.7L322.2 406.7L319.7 405.7L318.2 405.7L317.3 404.6L316.0 404.2L315.2 402.6L314.7 401.5L313.9 400.1L313.6 399.4L313.6 398.0L313.4 397.1L313.8 395.8L313.8 394.1L313.3 392.1L314.4 392.3L314.7 393.2L314.7 391.7L314.4 391.5ZM535.7 364.4L535.7 378.8L537.0 379.2L538.0 380.6L539.3 379.6L540.5 381.1L541.6 383.5L542.8 384.1L542.7 385.4L541.5 385.0L540.5 383.5L539.6 382.3L538.6 381.4L537.6 380.5L536.3 379.6L535.0 379.2L533.8 379.2L532.5 378.1L531.2 379.2L529.9 380.1L528.9 380.1L529.2 377.9L528.3 379.2L527.3 381.1L526.6 382.3L525.3 383.3L524.4 384.1L522.8 384.9L521.5 385.5L520.2 385.8L521.5 384.4L522.8 384.1L524.4 382.3L525.0 380.7L523.4 380.7L522.1 379.8L522.1 378.9L520.5 378.5L519.5 376.8L520.2 375.1L521.5 374.8L522.8 374.4L522.8 372.9L521.5 372.9L520.2 372.9L519.2 371.7L518.2 371.2L519.5 370.3L520.8 369.8L522.1 370.3L522.1 369.0L521.1 368.1L519.5 366.4L520.2 365.5L521.5 364.6L522.8 363.1L524.0 362.1L525.7 361.1L527.3 361.9L528.6 362.1L530.5 362.7L531.8 363.3L533.8 363.7L535.7 364.4ZM302.8 364.4L302.8 378.8L304.1 379.2L305.0 380.6L306.3 379.6L307.6 381.1L308.7 383.5L309.9 384.1L309.8 385.4L308.6 385.0L307.6 383.5L306.7 382.3L305.7 381.4L304.7 380.5L303.4 379.6L302.1 379.2L300.8 379.2L299.5 378.1L298.2 379.2L296.9 380.1L296.0 380.1L296.3 377.9L295.3 379.2L294.4 381.1L293.7 382.3L292.4 383.3L291.5 384.1L289.8 384.9L288.5 385.5L287.2 385.8L288.5 384.4L289.8 384.1L291.5 382.3L292.1 380.7L290.5 380.7L289.2 379.8L289.2 378.9L287.6 378.5L286.6 376.8L287.2 375.1L288.5 374.8L289.8 374.4L289.8 372.9L288.5 372.9L287.2 372.9L286.3 371.7L285.3 371.2L286.6 370.3L287.9 369.8L289.2 370.3L289.2 369.0L288.2 368.1L286.6 366.4L287.2 365.5L288.5 364.6L289.8 363.1L291.1 362.1L292.7 361.1L294.4 361.9L295.7 362.1L297.6 362.7L298.9 363.3L300.8 363.7L302.8 364.4ZM520.2 385.9L518.2 386.9L516.3 387.6L514.3 388.2L512.4 388.6L511.2 388.8L511.2 389.1L512.4 389.0L514.3 388.6L516.3 388.1L518.2 387.3L520.2 386.3ZM527.0 382.9L528.3 381.7L528.4 382.5L527.3 383.3ZM516.0 374.1L517.6 374.7L516.9 375.1L515.8 374.5ZM293.1 414.7L293.7 415.1L293.2 415.5L293.1 414.7Z" fill="#efe8bc" stroke="#44443f" stroke-width="0.85" stroke-linejoin="round"/>
<path d="M318.2 405.7L319.7 405.7L322.2 406.7L324.0 406.7L324.0 406.3L325.1 406.3L326.4 407.9L327.4 408.4L328.3 407.8L329.0 408.5L329.6 409.5L329.8 410.0L331.0 410.6L330.7 412.0L330.7 413.1L331.0 414.4L331.6 415.1L332.2 415.7L332.9 416.0L334.2 415.7L334.8 415.7L335.3 415.1L335.4 414.1L336.7 413.8L337.7 413.8L337.4 414.8L337.3 415.8L336.9 416.2L336.3 416.3L335.1 416.3L335.1 416.7L335.5 417.4L334.3 418.4L333.5 417.7L332.9 417.4L331.9 417.7L331.2 417.6L330.3 417.3L329.3 416.8L328.0 416.2L327.0 415.9L326.1 415.1L325.7 414.4L325.7 413.4L325.1 412.5L324.1 411.3L323.2 410.2L322.8 409.5L321.9 408.5L321.2 407.6L320.9 406.5L319.8 406.4L319.9 407.6L320.9 408.7L321.3 409.5L322.2 411.3L322.8 412.0L323.2 412.6L322.6 412.7L321.5 411.4L321.5 410.6L320.2 409.5L320.2 408.7L319.6 408.0L318.9 407.3L318.5 406.4L318.2 405.7Z" fill="#f8f8f0" stroke="#44443f" stroke-width="0.85" stroke-linejoin="round"/>
<path d="M334.3 418.4L335.5 417.4L335.1 416.7L335.1 416.3L336.3 416.3L336.9 416.2L336.9 416.8L336.6 417.5L337.7 417.6L338.4 417.6L339.3 417.6L340.0 418.0L340.1 419.5L339.9 420.8L340.3 421.5L340.6 421.8L341.6 422.3L342.2 422.0L342.9 421.8L343.5 422.0L343.9 422.4L344.0 422.8L343.7 423.3L343.2 422.7L342.6 422.3L342.2 423.3L341.6 422.9L340.9 422.7L340.3 422.6L339.8 422.3L339.0 421.7L338.6 421.2L338.4 420.5L337.5 419.8L337.3 419.5L336.7 419.4L335.8 419.1L334.9 418.9L334.3 418.4Z" fill="#f1f0d6" stroke="#44443f" stroke-width="0.85" stroke-linejoin="round"/>
<path d="M339.0 413.5L339.7 412.9L340.6 412.6L341.9 412.6L342.9 413.1L344.2 413.8L345.2 414.3L346.0 414.7L345.2 414.9L343.9 414.9L344.1 414.4L343.2 414.1L342.2 413.6L341.3 413.3L340.3 413.3L339.7 413.5L339.0 413.5Z" fill="#f6f6ea" stroke="#44443f" stroke-width="0.85" stroke-linejoin="round"/>
<path d="M345.8 415.9L346.4 415.0L347.4 414.9L348.7 415.1L349.4 415.3L349.7 415.8L349.0 415.9L348.1 416.2L347.4 416.0L346.4 416.0L345.8 415.9Z" fill="#f6f6ea" stroke="#44443f" stroke-width="0.85" stroke-linejoin="round"/>
<path d="M343.3 415.9L344.5 415.9L344.6 416.2L343.7 416.3Z" fill="#f6f6ea" stroke="#44443f" stroke-width="0.85" stroke-linejoin="round"/>
<path d="M350.5 415.8L351.5 415.9L351.4 416.2L350.5 416.2Z" fill="#f6f6ea" stroke="#44443f" stroke-width="0.85" stroke-linejoin="round"/>
<path d="M346.8 343.9L350.0 336.6L353.2 332.5L355.2 329.4L360.4 328.0L364.9 325.5L369.4 322.2L373.3 321.1L377.2 324.4L379.8 328.0L383.0 330.3L386.2 331.6L384.3 335.4L382.4 337.7L381.7 344.5L382.0 350.3L381.1 352.8L380.4 354.1L380.7 356.4L379.8 358.6L378.5 359.7L379.8 362.7L378.5 363.7L377.2 364.6L377.8 366.4L375.9 366.9L373.3 367.3L371.4 369.8L369.4 370.9L368.1 372.2L367.5 374.4L366.8 375.8L366.2 378.9L365.5 379.3L364.6 378.8L362.9 377.9L362.0 376.5L361.6 375.1L360.7 372.9L360.4 371.4L359.4 369.0L359.7 365.5L361.0 364.0L360.7 362.7L358.7 362.3L358.4 358.6L357.8 356.4L357.1 354.1L356.2 351.6L354.5 350.0L351.3 350.3L349.4 348.9L348.1 346.0L346.8 343.9Z" fill="#f7dc1c" stroke="#44443f" stroke-width="1.05" stroke-linejoin="round"/>
<path d="M378.5 371.4L379.4 370.0L381.1 370.6L382.4 370.3L383.6 369.8L384.6 370.1L385.3 372.2L384.3 373.4L383.0 374.1L381.7 374.5L380.4 374.0L379.3 373.8L379.8 372.9L378.5 372.3L379.4 371.8L378.5 371.4Z" fill="#f6dc2a" stroke="#44443f" stroke-width="1.05" stroke-linejoin="round"/>
<path d="M390.2 403.2L391.4 403.6L392.7 403.7L394.0 403.2L395.0 402.6L395.9 402.4L397.2 402.4L398.5 402.2L399.8 402.0L400.5 402.0L401.1 402.2L400.8 403.4L400.5 404.6L401.1 405.2L402.4 405.4L403.9 405.9L405.0 406.9L406.3 407.4L406.9 406.5L406.9 405.6L408.9 405.7L410.2 406.4L411.5 406.7L412.8 407.0L414.1 406.5L414.9 406.7L416.2 406.7L416.6 408.0L416.3 409.1L415.7 409.0L415.1 407.6L415.7 409.3L416.3 410.6L417.0 412.0L417.9 413.4L418.1 415.1L418.9 416.2L419.6 417.8L420.7 418.5L422.0 419.8L421.8 420.5L422.8 421.2L424.4 420.7L425.7 420.6L427.1 420.3L426.9 421.5L426.0 423.1L425.7 424.1L424.7 425.3L423.8 426.4L422.1 427.7L420.9 429.2L419.9 429.9L419.4 431.2L419.6 432.5L419.6 433.8L420.2 435.0L420.3 437.5L419.6 438.8L417.9 439.7L416.6 441.1L417.0 442.6L417.0 444.0L415.4 445.1L415.2 446.2L415.0 447.3L414.1 448.4L413.4 449.5L412.4 450.5L410.8 451.3L408.9 451.4L406.9 452.0L406.0 451.6L405.8 450.3L405.0 448.0L403.8 445.8L403.4 443.3L402.7 441.9L402.4 440.9L401.6 439.3L401.9 437.5L402.9 435.8L402.5 433.8L402.0 431.9L401.8 431.1L400.3 429.6L399.8 428.5L400.1 427.4L400.3 426.1L399.7 425.1L398.5 425.2L397.6 424.8L396.8 423.9L395.6 423.9L394.6 424.2L392.7 424.9L391.1 424.6L389.1 425.2L388.2 424.8L386.9 423.7L385.9 423.1L385.5 422.2L384.4 420.8L383.2 419.8L382.7 418.4L383.3 417.5L383.5 415.5L383.0 414.1L383.6 412.2L384.4 410.9L385.6 409.3L386.6 408.7L387.5 408.0L387.7 406.5L388.5 405.1L389.6 404.4L390.2 403.2Z" fill="#f0f0e4" stroke="#44443f" stroke-width="0.85" stroke-linejoin="round"/>
<path d="M400.1 407.5L400.7 406.3L401.4 405.2L402.4 405.4L403.9 405.9L405.0 406.9L406.3 407.4L406.9 406.5L406.9 405.6L408.9 405.7L410.2 406.4L410.2 413.4L410.2 414.8L409.5 414.8L409.5 415.1L404.4 412.4L403.7 412.7L403.2 413.0L401.8 412.4L400.5 411.6L400.1 410.2L400.5 408.4L400.1 407.5Z" fill="#f2f1d6"/>
<path d="M410.2 406.4L411.5 406.7L412.8 407.0L414.1 406.5L414.9 406.7L416.2 406.7L416.6 408.0L416.3 409.1L415.7 409.0L415.1 407.6L415.7 409.3L416.3 410.6L417.0 412.0L417.9 413.4L410.2 413.4L410.2 406.4Z" fill="#f3ebb0"/>
<path d="M402.0 431.9L404.7 431.8L405.0 432.9L406.6 432.9L407.3 432.5L408.2 432.9L408.2 435.2L409.5 435.2L409.5 436.2L408.2 436.5L408.2 438.6L409.2 439.6L407.6 439.8L406.0 439.4L403.1 439.4L401.6 439.3L401.9 437.5L402.9 435.8L402.5 433.8L402.0 431.9Z" fill="#f2ecb6"/>
<path d="M400.3 426.5L401.3 426.6L402.6 426.6L403.3 428.3L403.3 429.3L402.1 429.5L401.2 430.6L400.3 429.6L399.8 428.5L400.1 427.4L400.3 426.5Z" fill="#e8e3a0"/>
<path d="M425.9 435.8L426.5 438.2L426.0 439.2L425.6 441.2L424.6 444.6L423.2 445.1L422.5 444.4L422.0 442.6L422.7 441.2L422.5 439.2L423.8 438.3L425.1 436.8L425.9 435.8Z" fill="#f4f4ea" stroke="#44443f" stroke-width="0.85" stroke-linejoin="round"/>
<path d="M395.6 389.4L396.3 389.1L396.7 388.3L397.2 387.1L398.5 386.9L399.5 386.5L399.6 385.3L400.1 385.4L400.5 385.9L401.1 386.3L402.1 385.9L403.2 386.3L404.7 385.8L406.0 385.4L406.6 385.9L407.6 385.2L407.6 383.1L408.2 382.2L409.2 382.9L409.7 382.3L409.8 381.3L409.2 380.7L409.2 380.1L410.8 379.7L412.1 379.8L411.7 380.5L412.0 382.3L412.2 384.0L413.9 384.6L414.4 385.8L415.0 386.9L414.1 387.4L414.6 388.4L416.0 388.2L417.0 390.1L418.6 390.5L419.9 390.9L419.8 392.5L418.7 393.4L417.6 393.7L416.6 394.2L417.6 395.1L416.6 395.5L415.7 395.8L415.0 394.9L415.7 394.4L414.7 393.9L414.1 393.8L413.4 394.4L413.2 395.1L412.6 395.8L412.5 396.5L412.1 397.6L412.1 398.0L412.2 398.4L412.8 398.7L412.6 398.9L411.8 398.9L411.5 399.2L410.8 399.2L410.8 399.0L409.5 399.1L409.2 399.5L408.8 399.3L408.6 400.1L409.0 400.6L409.5 401.4L409.0 401.5L408.9 402.6L408.4 402.6L408.0 402.4L407.8 401.5L407.7 401.1L407.3 400.1L406.6 399.3L406.6 398.2L406.0 397.7L405.3 397.1L404.0 396.2L403.4 395.1L402.9 394.8L402.9 393.9L402.0 393.5L400.8 393.7L399.5 394.0L398.5 394.5L397.9 394.1L398.9 392.9L399.3 391.5L397.9 391.0L396.7 390.5L395.6 389.4Z" fill="#f3f2e0" stroke="#44443f" stroke-width="0.85" stroke-linejoin="round"/>
<path d="M413.9 364.0L415.4 364.8L417.3 365.5L418.6 366.8L420.5 368.6L420.2 370.3L418.6 370.6L416.6 370.0L415.4 369.5L416.5 371.8L416.3 372.9L417.3 373.7L418.3 373.8L418.9 372.5L419.9 372.9L419.9 370.9L421.5 370.0L422.1 370.3L422.7 368.1L422.0 366.2L423.8 367.3L424.1 369.0L424.4 369.1L425.7 367.6L428.3 366.4L429.3 366.9L432.2 365.9L433.1 364.0L434.1 364.4L436.1 365.2L438.0 366.6L438.6 365.7L437.3 363.7L437.3 360.7L438.6 357.5L440.9 358.0L441.1 361.7L440.6 364.6L440.8 366.8L441.6 369.0L440.6 370.1L441.9 369.3L441.9 366.4L443.2 365.5L442.2 360.7L442.5 358.0L444.5 359.3L446.1 358.6L446.2 356.4L448.3 355.7L450.3 352.8L452.9 351.0L455.5 350.3L457.4 349.4L459.3 347.5L461.3 345.4L462.6 346.6L463.2 348.0L465.8 348.6L467.1 350.3L466.5 354.1L465.2 355.7L467.4 356.4L469.1 356.2L470.7 357.1L472.3 357.5L473.9 357.1L476.2 358.6L477.8 361.7L478.8 362.1L480.1 360.7L482.0 360.5L483.3 360.7L484.6 358.6L486.5 358.2L488.5 359.1L491.1 360.7L492.3 361.9L494.9 361.7L496.9 362.3L497.5 364.0L498.2 364.6L500.8 364.6L502.7 363.7L504.0 363.9L504.6 365.5L505.9 364.0L507.9 364.0L510.5 365.7L512.4 367.3L513.7 368.1L515.6 369.8L517.1 370.6L515.6 372.2L515.0 373.1L513.0 372.5L511.8 371.4L511.1 372.6L509.8 372.9L509.2 374.4L508.8 375.8L507.9 376.2L506.6 376.8L505.3 377.9L504.3 379.2L502.7 378.9L501.4 379.2L500.4 379.4L499.7 380.5L499.5 381.7L498.8 382.9L499.5 384.1L498.8 384.1L499.1 385.4L497.8 386.3L497.5 387.4L496.5 387.6L495.9 389.0L495.4 389.5L494.9 387.9L494.9 386.3L494.6 383.5L495.3 382.3L495.6 381.7L496.5 380.5L497.5 378.5L498.8 377.2L499.8 376.9L500.1 375.8L498.8 376.1L497.5 376.9L496.2 376.9L495.6 377.2L494.3 379.2L494.3 380.1L493.0 380.5L491.7 380.1L490.4 379.7L488.5 380.1L486.8 380.1L485.9 380.5L484.6 382.1L483.6 383.5L482.6 385.2L481.3 385.5L482.6 386.5L483.3 386.5L484.9 387.4L485.5 388.7L484.9 390.5L484.9 391.5L484.3 393.0L483.5 394.1L482.0 395.8L481.0 396.9L480.1 397.3L478.8 397.6L478.6 397.7L478.8 397.1L479.0 395.5L480.1 395.1L481.0 393.0L481.3 392.1L480.1 392.5L478.8 392.8L477.8 391.5L476.5 390.7L475.8 389.0L475.5 387.9L473.9 386.9L471.6 387.2L471.6 389.0L471.0 390.3L470.2 391.0L469.5 390.7L467.8 390.3L465.8 391.2L464.2 391.2L462.3 390.2L460.6 390.2L460.0 389.0L457.7 388.5L457.1 390.5L455.5 390.5L453.5 389.7L452.2 390.5L450.9 391.0L450.8 391.3L450.5 391.3L449.0 390.5L447.8 389.5L445.8 389.7L444.8 387.9L443.8 386.9L442.8 386.3L441.6 386.3L439.9 386.1L438.6 384.9L436.1 385.8L434.8 386.3L433.5 386.3L432.5 387.9L433.8 389.5L432.8 389.8L431.8 389.5L429.6 389.8L428.3 389.0L427.0 389.0L425.5 390.5L424.4 390.7L424.4 392.5L425.4 393.0L425.7 393.9L424.7 394.9L424.4 395.3L424.2 395.8L424.7 397.1L425.4 398.2L424.1 398.2L423.1 397.5L422.5 397.5L421.2 396.9L419.9 396.8L418.9 396.0L417.9 395.3L418.6 394.4L419.2 393.3L418.7 393.4L419.8 392.5L419.9 390.9L418.6 390.5L417.0 390.1L416.0 388.2L414.6 388.4L414.1 387.4L415.0 386.9L414.4 385.8L413.9 384.6L412.2 384.0L412.0 382.3L411.7 380.5L412.1 379.8L412.8 379.2L413.4 379.2L412.4 378.5L412.1 378.5L413.1 376.5L414.4 375.3L413.7 374.4L413.4 372.9L413.1 369.8L412.8 367.3L412.4 365.5L412.8 365.2L413.9 364.0ZM406.8 385.9L408.8 385.9L408.8 385.2L407.6 384.9L406.8 385.9ZM427.3 360.7L428.3 362.3L429.6 362.3L431.2 362.5L430.9 359.7L429.9 356.9L430.9 354.1L432.2 352.1L433.5 350.8L435.4 349.4L437.3 348.0L438.6 347.8L438.0 349.7L436.1 351.6L433.5 352.8L432.2 355.3L431.5 357.5L430.2 358.6L429.9 360.7L428.6 359.7L427.3 360.7ZM455.5 341.2L457.4 341.9L460.0 343.9L461.9 342.9L460.6 340.2L458.7 338.4L458.7 335.8L456.8 333.8L454.2 334.6L453.5 337.7L455.5 341.2ZM482.6 352.1L484.6 353.3L486.5 352.8L488.5 352.3L491.1 352.8L490.4 351.0L487.8 350.3L485.2 349.7L483.3 350.8L482.6 352.1ZM484.6 356.6L486.2 357.1L486.8 356.4L485.2 355.3ZM509.5 361.3L511.1 362.1L512.1 361.3L511.1 360.5L509.5 361.3ZM485.9 394.4L486.8 393.7L486.5 392.5L486.5 391.5L487.5 391.3L486.8 390.0L486.7 388.5L486.7 387.1L486.5 386.0L485.9 386.9L485.9 388.5L485.9 389.5L486.0 391.0L485.9 392.5L485.7 393.9L485.9 394.4ZM425.4 365.0L426.4 365.5L426.0 366.1L425.3 365.9ZM494.3 390.2L494.9 389.7L495.1 390.3L494.5 390.7ZM501.4 384.9L502.4 385.4L501.6 385.5Z" fill="#efe8bc" stroke="#44443f" stroke-width="0.85" stroke-linejoin="round"/>
<path d="M423.1 335.4L424.4 336.9L426.4 337.7L427.0 335.4L425.1 334.2L423.1 335.4ZM427.6 336.6L429.6 337.7L431.5 336.9L430.9 334.6L428.9 333.8L427.6 336.6ZM431.5 334.6L433.5 336.2L435.4 335.4L436.1 333.8L434.1 332.1L432.2 331.6L431.5 334.6ZM428.9 332.5L430.9 332.9L431.5 330.3L429.6 330.3Z" fill="#8a8878" stroke="#44443f" stroke-width="1.05" stroke-linejoin="round"/>
<path d="M398.5 381.7L397.6 380.5L397.2 378.8L397.2 377.2L397.6 376.1L398.5 375.1L399.5 374.2L400.8 372.9L401.8 371.7L402.4 369.8L403.4 368.0L403.7 366.8L404.7 366.1L405.6 364.6L406.9 363.7L407.6 363.3L408.9 362.1L410.5 361.5L411.5 361.7L412.1 361.7L413.4 362.5L414.1 363.1L413.1 363.9L413.9 364.0L412.8 365.2L412.4 365.5L410.8 363.9L410.2 365.5L409.9 366.1L408.6 366.1L407.6 365.2L407.3 365.5L406.9 366.6L405.6 366.8L404.7 368.1L404.0 370.1L403.4 371.7L402.9 373.2L401.9 374.4L402.0 377.2L402.2 378.5L401.6 379.8L401.2 380.5L400.8 380.2L400.1 380.8L399.2 381.6L398.5 381.7Z" fill="#f2e488" stroke="#44443f" stroke-width="1.05" stroke-linejoin="round"/>
<path d="M401.2 380.5L401.6 379.8L402.2 378.5L402.0 377.2L401.9 374.4L402.9 373.2L403.4 371.7L404.0 370.1L404.7 368.1L405.6 366.8L406.9 366.6L407.3 365.5L408.2 366.8L409.2 367.5L409.4 370.6L409.6 370.9L408.2 371.4L407.9 372.9L407.3 374.0L406.6 374.7L405.6 375.8L405.3 376.1L405.1 378.3L406.2 379.2L405.8 380.2L404.8 381.1L404.8 382.3L404.7 383.1L404.2 384.0L403.3 384.6L402.4 384.8L402.2 383.7L401.8 382.9L401.6 382.3L401.3 381.3L401.2 380.5Z" fill="#f4f0cc" stroke="#44443f" stroke-width="0.85" stroke-linejoin="round"/>
<path d="M409.6 370.9L409.4 370.6L409.2 367.5L408.2 366.8L407.3 365.5L407.6 365.2L408.6 366.1L409.9 366.1L410.2 365.5L410.8 363.9L412.4 365.5L412.8 367.3L413.1 369.8L413.4 372.9L413.7 374.4L414.4 375.3L413.1 376.5L412.1 378.5L411.1 378.7L410.2 378.9L408.9 379.3L407.9 378.4L407.8 376.5L407.9 374.8L408.9 373.7L409.9 372.6L410.4 372.0L409.6 370.9Z" fill="#f2e691" stroke="#44443f" stroke-width="0.85" stroke-linejoin="round"/>
<path d="M399.3 384.6L399.3 382.9L400.1 382.7L400.8 382.1L400.7 383.5L401.0 383.8L400.3 384.9L400.1 385.4L399.6 385.3L399.3 384.6ZM401.1 384.4L402.1 384.1L402.0 385.2L401.2 385.1L401.1 384.4Z" fill="#f2e9a8" stroke="#44443f" stroke-width="0.85" stroke-linejoin="round"/>
<path d="M390.4 390.4L391.7 390.2L393.4 389.8L394.8 389.3L394.5 389.0L395.1 387.7L394.1 387.4L393.9 386.3L393.0 385.2L392.7 384.1L392.1 383.8L392.7 382.1L391.7 382.1L392.1 381.0L390.8 381.0L390.1 382.3L390.4 384.1L390.9 384.6L390.8 385.4L391.7 385.3L392.1 386.5L391.1 387.1L391.2 387.9L390.6 388.7L392.1 389.0L391.1 389.5L390.4 390.4Z" fill="#f1f0d8" stroke="#44443f" stroke-width="1.05" stroke-linejoin="round"/>
<path d="M387.5 388.7L388.8 388.9L390.0 388.3L390.1 386.9L390.4 385.8L389.8 385.0L388.8 385.0L387.5 386.1L387.9 387.4L387.5 388.7Z" fill="#f4f4e8" stroke="#44443f" stroke-width="0.85" stroke-linejoin="round"/>
<path d="M392.8 396.8L393.2 395.6L393.2 394.4L392.4 393.2L391.0 392.1L392.1 391.7L393.0 391.8L392.8 390.8L394.1 390.9L395.0 389.6L395.6 389.4L396.7 390.5L397.9 391.0L399.3 391.5L398.9 392.9L397.9 394.1L398.5 394.5L398.5 396.1L398.9 396.4L397.9 397.0L396.6 396.7L395.9 397.6L395.0 397.6L394.0 397.4L392.8 396.8ZM399.6 397.2L400.1 397.1L400.1 398.4L399.6 398.4L399.6 397.2Z" fill="#f1e08a" stroke="#44443f" stroke-width="0.85" stroke-linejoin="round"/>
<path d="M392.8 396.8L394.0 397.4L395.0 397.6L396.1 397.7L395.9 398.2L394.5 398.9L394.0 400.1L393.8 400.8L393.5 401.7L392.7 402.4L391.1 402.4L390.4 403.0L389.9 402.4L389.2 402.0L389.5 401.0L389.5 400.0L389.6 398.9L390.0 398.4L388.8 398.0L388.3 398.1L388.0 397.1L388.8 396.5L390.4 396.7L391.7 396.7L392.8 396.8Z" fill="#fbfbf4" stroke="#44443f" stroke-width="0.85" stroke-linejoin="round"/>
<path d="M388.3 398.1L388.8 398.0L390.0 398.4L389.6 398.9L389.5 400.0L389.5 401.0L389.2 402.0L388.2 402.2L388.3 401.0L387.9 400.8L388.3 399.5L388.3 398.1Z" fill="#f2e38c" stroke="#44443f" stroke-width="0.85" stroke-linejoin="round"/>
<path d="M398.9 396.4L398.5 396.1L398.5 394.5L399.5 394.0L400.8 393.7L402.0 393.5L402.9 393.9L402.9 394.8L402.0 395.1L402.0 396.0L402.8 396.7L403.4 397.8L404.4 398.1L404.4 398.5L406.0 399.5L405.8 399.9L405.0 399.3L404.7 400.0L405.1 400.6L404.4 401.4L404.2 401.3L404.2 400.1L403.7 399.6L402.4 398.7L401.4 397.7L400.7 397.1L400.6 396.3L399.6 395.9L398.9 396.4ZM402.0 401.4L404.1 401.1L403.8 402.4L402.1 401.7L402.0 401.4ZM399.3 398.9L400.3 398.9L400.2 400.5L399.4 400.6L399.3 398.9Z" fill="#f6f5e6" stroke="#44443f" stroke-width="0.85" stroke-linejoin="round"/>
<path d="M409.2 403.4L411.0 403.6L410.8 403.8L409.3 403.6Z" fill="#f3f2e0" stroke="#44443f" stroke-width="0.85" stroke-linejoin="round"/>
<path d="M414.9 403.8L416.3 403.3L416.0 403.9L415.2 404.1Z" fill="#f3f2e0" stroke="#44443f" stroke-width="0.85" stroke-linejoin="round"/>
<path d="M410.8 399.2L411.0 400.1L411.1 401.0L411.7 402.2L412.2 402.4L413.7 402.8L415.0 402.9L416.0 402.6L417.3 402.4L417.2 403.1L417.7 402.4L418.6 402.4L419.9 402.2L421.4 402.0L423.0 402.0L422.7 400.1L422.3 399.6L422.1 398.8L420.9 398.4L419.2 398.9L417.6 398.7L416.6 398.0L415.4 398.0L414.4 398.7L412.9 398.7L412.8 398.9L411.8 399.3L410.8 399.2Z" fill="#f4f3e2" stroke="#44443f" stroke-width="0.85" stroke-linejoin="round"/>
<path d="M420.9 398.4L420.9 397.6L419.9 396.8L421.2 396.9L422.5 397.5L423.1 397.5L424.1 398.2L425.4 398.2L426.0 399.3L425.7 401.0L426.4 401.9L427.6 402.4L428.9 402.3L428.8 400.6L428.3 399.7L428.0 398.2L428.0 398.2L428.9 397.8L430.2 398.6L430.2 395.3L431.8 394.9L433.5 396.1L434.1 396.7L435.7 396.7L436.7 397.7L437.0 398.7L438.0 398.9L438.6 398.5L439.9 397.7L441.6 397.6L442.3 396.9L443.8 397.1L445.1 397.3L445.9 397.8L444.8 398.6L443.2 399.3L441.7 400.1L442.5 401.0L442.2 402.0L442.5 402.2L443.2 402.4L444.5 403.4L443.8 403.4L441.9 404.0L441.9 405.4L442.2 406.5L441.2 407.6L439.3 409.3L439.3 410.8L439.9 411.6L438.1 412.2L438.1 412.2L437.7 412.1L437.2 411.3L435.4 411.1L433.9 411.1L432.2 411.0L431.1 410.9L430.6 409.8L429.3 410.1L428.0 409.5L427.0 409.1L426.4 407.5L425.4 407.6L425.1 408.0L425.6 409.1L426.5 410.2L426.9 410.9L427.4 410.6L427.4 411.9L428.9 411.9L429.7 410.9L430.5 410.4L430.6 411.6L431.9 412.3L432.7 413.1L431.8 414.4L431.4 415.5L429.7 416.5L427.6 417.5L425.4 418.9L423.1 419.6L422.0 419.5L421.6 417.2L420.5 415.5L419.2 413.4L418.1 411.3L416.6 409.1L416.6 408.0L416.2 406.7L416.6 405.5L417.2 404.2L417.2 403.1L417.7 402.4L418.6 402.4L419.9 402.2L421.4 402.0L423.0 402.0L422.7 400.1L422.3 399.6L422.1 398.8L420.9 398.4Z" fill="#f1f1e0" stroke="#44443f" stroke-width="0.85" stroke-linejoin="round"/>
<path d="M450.5 391.3L449.0 390.5L447.8 389.5L445.8 389.7L444.8 387.9L443.8 386.9L442.8 386.3L441.6 386.3L439.9 386.1L438.6 384.9L436.1 385.8L434.8 386.3L433.5 386.3L432.5 387.9L433.8 389.5L432.8 389.8L431.8 389.5L429.6 389.8L428.3 389.0L427.0 389.0L425.5 390.5L424.4 390.7L424.4 392.5L425.4 393.0L425.7 393.9L427.0 393.5L428.3 393.7L428.3 395.1L427.0 395.8L426.5 396.0L427.0 396.9L428.0 397.6L428.0 398.2L428.9 397.8L430.2 398.6L430.2 395.3L431.8 394.9L433.5 396.1L434.1 396.7L435.7 396.7L436.7 397.7L437.0 398.7L438.0 398.9L438.6 398.5L439.9 397.7L441.6 397.6L442.3 396.9L443.8 397.1L445.1 397.3L445.9 397.8L446.1 396.7L445.8 395.3L447.4 395.1L447.7 393.3L449.3 393.4L449.5 392.1L450.5 391.3Z" fill="#eceeea" stroke="#44443f" stroke-width="0.85" stroke-linejoin="round"/>
<path d="M469.5 390.7L467.8 390.3L465.8 391.2L464.2 391.2L462.3 390.2L460.6 390.2L460.0 389.0L457.7 388.5L457.1 390.5L455.5 390.5L453.5 389.7L452.2 390.5L450.9 391.0L450.8 391.3L450.9 391.9L452.6 393.0L452.9 395.1L454.5 395.4L455.5 396.1L456.4 397.4L458.7 397.5L460.0 397.8L461.9 398.4L463.6 397.7L464.8 397.6L466.3 396.5L466.5 395.3L467.8 395.3L468.4 395.0L469.7 394.0L471.5 393.7L470.3 392.7L468.7 392.3L469.5 390.7Z" fill="#e8edef" stroke="#44443f" stroke-width="0.85" stroke-linejoin="round"/>
<path d="M450.8 391.3L450.9 391.9L452.6 393.0L452.9 395.1L454.5 395.4L455.5 396.1L456.4 397.4L458.7 397.5L460.0 397.8L461.9 398.4L463.6 397.7L464.8 397.6L466.3 396.5L466.5 395.3L467.8 395.3L468.4 395.0L469.7 394.0L471.5 393.7L470.3 392.7L468.7 392.3L469.5 390.7L470.2 391.0L471.0 390.3L471.6 389.0L471.6 387.2L473.9 386.9L475.5 387.9L475.8 389.0L476.5 390.7L477.8 391.5L478.8 392.8L480.1 392.5L481.3 392.1L481.0 393.0L480.1 395.1L479.0 395.5L478.8 397.1L478.6 397.7L477.8 397.7L476.8 398.4L475.8 398.4L474.4 399.7L473.3 399.4L472.7 400.6L472.3 399.3L471.3 400.1L470.3 400.4L470.2 401.0L471.0 402.0L472.2 401.5L473.3 402.0L472.0 402.8L471.2 403.8L472.0 405.0L472.8 406.3L472.6 407.6L472.9 408.0L472.6 409.1L471.6 410.2L471.0 411.1L470.0 412.1L469.1 412.8L467.8 413.2L466.8 413.6L465.5 413.9L465.2 414.6L465.0 413.8L464.1 413.7L463.2 413.1L462.3 412.6L461.0 413.0L460.0 413.1L459.7 414.0L458.7 413.7L458.1 413.4L457.9 412.0L457.2 411.6L457.9 410.6L457.7 409.4L457.0 408.9L456.1 408.1L454.8 408.2L453.5 409.3L452.0 409.0L451.5 409.6L451.0 409.2L449.6 409.1L448.3 408.5L446.4 407.5L445.3 406.9L444.8 405.7L445.1 404.2L444.5 403.4L443.2 402.4L442.5 402.2L442.2 402.0L442.5 401.0L441.7 400.1L443.2 399.3L444.8 398.6L445.9 397.8L446.1 396.7L445.8 395.3L447.4 395.1L447.7 393.3L449.3 393.4L449.5 392.1L450.5 391.3ZM464.3 415.3L465.5 414.8L465.8 415.1L464.8 416.0L464.3 415.7L464.3 415.3Z" fill="#f1e387" stroke="#44443f" stroke-width="0.85" stroke-linejoin="round"/>
<path d="M471.8 412.7L472.3 411.1L472.9 411.3L472.6 412.4L472.2 413.4L471.8 412.7Z" fill="#f4f2dc" stroke="#44443f" stroke-width="0.85" stroke-linejoin="round"/>
<path d="M474.4 399.7L475.8 398.4L476.8 398.4L477.8 397.7L478.6 397.7L477.9 398.9L476.5 399.9L477.1 401.0L477.7 402.2L477.7 403.4L477.1 403.9L475.8 404.3L475.7 403.4L476.0 402.2L474.9 401.6L475.1 400.1L474.4 399.7Z" fill="#f2efd0" stroke="#44443f" stroke-width="0.85" stroke-linejoin="round"/>
<path d="M478.7 404.6L479.4 404.3L481.3 404.1L482.5 404.2L483.6 404.0L484.6 403.6L485.1 402.4L485.2 401.1L485.9 400.1L485.5 398.5L484.8 398.9L484.6 399.9L484.3 401.1L483.3 402.0L482.6 402.0L482.4 402.5L482.0 403.2L480.1 403.4L479.1 404.0L478.7 404.6ZM484.6 398.4L485.4 397.1L485.7 395.0L486.8 396.1L488.0 396.2L488.1 396.9L486.8 398.0L485.6 397.6L484.6 398.4ZM477.9 405.1L478.8 404.7L479.3 405.4L479.0 406.6L478.2 406.7L477.9 405.1ZM479.6 405.1L480.9 404.3L481.0 404.8L480.1 405.5L479.6 405.1Z" fill="#fafaf2" stroke="#44443f" stroke-width="1.05" stroke-linejoin="round"/>
<path d="M443.8 403.4L441.9 404.0L441.9 405.4L442.2 406.5L441.2 407.6L439.3 409.3L439.3 410.8L439.9 411.6L438.1 412.2L438.6 413.1L439.5 414.2L441.0 413.8L441.1 415.5L441.6 417.5L442.4 419.5L443.4 421.8L444.1 422.7L444.6 422.2L445.3 421.3L446.0 419.4L445.9 417.8L447.2 417.0L449.0 415.1L450.2 414.1L451.3 413.6L451.6 413.5L452.6 413.1L453.4 413.2L453.7 414.3L453.9 413.5L454.4 413.3L454.4 412.0L455.2 411.3L455.6 410.1L456.8 409.3L457.0 408.9L456.1 408.1L454.8 408.2L453.5 409.3L452.0 409.0L451.5 409.6L451.0 409.2L449.6 409.1L448.3 408.5L446.4 407.5L445.3 406.9L444.8 405.7L445.1 404.2L444.5 403.4Z" fill="#eeeee4" stroke="#44443f" stroke-width="0.85" stroke-linejoin="round"/>
<path d="M445.6 421.8L446.0 421.6L446.9 423.1L446.8 423.9L446.1 424.2L445.6 423.1L445.6 421.8Z" fill="#f0efd8" stroke="#44443f" stroke-width="0.85" stroke-linejoin="round"/>
<path d="M453.7 414.3L454.6 415.1L455.0 416.2L455.0 417.5L455.8 417.6L457.0 417.0L457.2 418.2L457.5 419.2L457.9 420.5L457.6 421.8L457.6 422.8L458.4 423.5L458.9 424.4L459.5 426.1L460.3 426.7L461.0 427.1L461.4 427.0L461.0 426.1L460.9 425.1L460.3 424.1L459.7 423.5L459.0 423.3L458.7 422.2L458.2 421.5L458.6 420.2L459.0 419.2L459.3 419.7L460.3 420.2L460.6 421.0L461.6 421.2L461.9 422.3L463.0 421.3L463.9 420.8L464.7 420.2L464.7 418.9L464.3 417.8L463.2 416.8L462.5 415.5L462.6 414.8L463.2 414.1L464.1 413.7L463.2 413.1L462.3 412.6L461.0 413.0L460.0 413.1L459.7 414.0L458.7 413.7L458.1 413.4L457.9 412.0L457.2 411.6L457.9 410.6L457.7 409.4L457.0 408.9L456.8 409.3L455.6 410.1L455.2 411.3L454.4 412.0L454.4 413.3L453.9 413.5L453.7 414.3Z" fill="#f2e894" stroke="#44443f" stroke-width="0.85" stroke-linejoin="round"/>
<path d="M455.7 424.4L457.1 424.6L458.7 426.4L460.6 428.0L461.6 429.3L462.6 430.1L462.5 431.8L461.6 431.7L460.2 430.6L459.0 429.0L457.9 427.0L456.8 425.7L455.7 424.4ZM462.1 432.4L462.9 431.9L464.2 432.3L465.8 432.3L466.9 432.5L468.1 433.1L468.0 433.6L465.8 433.4L463.9 433.1L462.8 432.8L462.1 432.4ZM471.3 431.6L471.3 430.3L471.0 429.3L471.5 427.7L472.3 427.2L473.9 427.4L474.9 427.0L474.6 427.7L472.9 427.7L472.0 428.0L471.8 428.6L472.6 428.6L473.6 428.5L472.7 429.3L473.3 430.3L473.6 431.4L472.9 431.1L472.3 429.9L472.0 430.3L471.8 431.6L471.3 431.6ZM469.1 433.4L471.0 433.4L473.6 433.3L473.5 433.7L471.0 433.8L469.1 433.8L469.1 433.4ZM473.9 434.7L474.9 434.0L476.3 433.5L475.8 433.9L474.6 434.6L473.9 434.7ZM476.5 427.4L476.8 426.7L477.3 427.2L476.9 428.3L476.6 428.2ZM475.5 430.1L476.5 429.9L478.4 430.1L477.5 430.3L475.7 430.4Z" fill="#f2e9a0" stroke="#44443f" stroke-width="1.05" stroke-linejoin="round"/>
<path d="M464.5 427.0L465.2 426.9L466.0 426.4L467.1 425.9L468.1 424.9L469.1 423.8L469.7 423.5L470.7 424.4L471.0 424.8L470.2 425.7L470.3 427.0L470.0 427.7L469.4 429.0L469.2 430.3L468.1 430.6L467.1 430.1L466.1 430.1L465.2 429.8L465.0 428.6L464.5 427.8L464.5 427.0Z" fill="#f3eec0" stroke="#44443f" stroke-width="0.85" stroke-linejoin="round"/>
<path d="M478.8 428.5L480.1 428.3L480.7 428.6L481.3 430.1L483.0 429.1L485.2 429.7L487.5 430.5L488.5 431.6L489.6 432.2L489.2 432.9L490.4 433.8L491.4 434.8L489.4 434.5L488.5 433.3L487.2 433.1L486.5 434.0L485.2 434.0L483.9 433.3L483.3 433.4L483.6 432.4L483.3 431.6L481.7 430.8L480.4 430.5L479.7 429.8L479.4 429.4L478.8 428.5Z" fill="#f1eab0" stroke="#44443f" stroke-width="0.85" stroke-linejoin="round"/>
<path d="M472.0 415.8L472.9 415.8L473.1 417.2L472.7 418.5L474.2 419.5L473.9 419.7L472.9 419.0L472.0 418.7L471.6 417.5L472.0 415.8ZM472.9 423.5L473.9 422.5L475.2 421.7L475.8 423.1L475.2 424.1L474.2 423.8L472.9 423.5ZM473.3 420.5L474.6 420.5L475.2 420.8L474.9 421.5L473.6 421.8L473.3 420.5ZM469.9 422.5L471.3 420.7L471.2 421.3L470.2 422.3Z" fill="#f3f0d0" stroke="#44443f" stroke-width="1.05" stroke-linejoin="round"/>
<path d="M500.1 441.3L501.7 442.5L502.0 442.8L500.3 441.8ZM508.7 439.5L509.6 439.6L509.5 440.0L508.7 440.0ZM509.7 438.7L510.5 438.6L510.1 439.0ZM501.8 437.8L502.2 438.0L502.4 438.8L502.0 438.5ZM502.8 439.5L503.1 439.7L502.9 439.8ZM495.3 432.5L496.9 433.2L498.2 434.4L497.5 434.4L495.6 433.1ZM497.2 434.0L498.5 434.7L498.8 435.0L498.0 434.5ZM490.1 431.6L491.4 431.6L492.5 430.7L492.3 431.6L491.1 432.1L490.1 431.6ZM491.7 429.7L492.9 430.5L493.0 430.9L492.6 430.6ZM494.0 431.6L494.8 432.2L494.6 432.5L494.1 431.9ZM515.1 436.8L516.0 437.0L515.6 437.1ZM529.9 439.5L530.4 439.6L530.2 439.8ZM525.0 426.7L525.2 426.8L525.1 426.9ZM526.0 414.7L526.6 415.1L526.1 415.5L526.0 414.7ZM524.6 413.7L524.9 413.8L524.7 414.0ZM525.5 414.2L526.0 414.2L525.8 414.4ZM303.3 433.7L303.7 433.8L303.4 434.2ZM304.1 434.3L304.3 434.5L304.0 434.6ZM334.8 428.2L335.3 428.4L335.0 428.6L334.7 428.5ZM335.4 428.3L335.6 428.5L335.5 428.6Z" fill="#ddd" stroke="#44443f" stroke-width="1.05" stroke-linejoin="round"/>
<path d="M486.2 435.0L486.8 437.3L488.0 437.8L488.5 440.2L490.1 441.3L491.6 443.3L493.0 445.1L493.3 447.3L492.7 450.3L491.7 451.4L491.1 453.8L489.8 454.5L488.7 455.4L487.5 454.8L485.2 454.6L484.4 453.4L483.4 451.8L483.2 452.6L482.5 451.4L483.2 450.6L482.0 452.0L481.7 452.0L480.7 450.5L479.1 449.5L477.1 449.9L475.5 450.1L474.2 450.8L473.9 451.3L471.6 451.3L470.2 452.2L468.5 451.7L468.9 449.9L468.4 448.4L467.8 446.5L467.3 445.4L467.4 444.0L467.6 442.8L468.3 442.2L469.6 441.6L471.0 441.2L472.5 440.7L473.1 439.5L473.9 439.4L474.6 438.5L475.2 437.5L476.2 437.1L477.1 437.8L477.8 437.8L478.4 436.2L479.4 435.4L480.1 435.6L481.3 436.0L482.5 435.8L482.0 436.8L481.7 437.8L483.0 438.5L484.3 439.5L485.1 439.4L485.6 437.8L485.7 436.4L486.2 435.0ZM487.6 456.9L488.8 457.2L490.0 457.0L489.8 458.7L489.1 459.4L488.5 459.3L488.0 458.3L487.6 456.9Z" fill="#f1e8a6" stroke="#44443f" stroke-width="0.85" stroke-linejoin="round"/>
<path d="M505.7 451.7L506.8 452.6L507.2 453.6L507.9 454.3L509.4 454.4L508.7 455.7L508.2 456.7L507.4 457.6L507.1 456.7L506.4 455.8L507.0 454.8L506.9 453.6L505.9 452.2L505.7 451.7ZM505.7 456.7L506.7 457.6L505.9 458.9L505.3 459.8L504.6 460.9L504.3 461.6L503.3 462.3L502.4 461.9L501.7 461.4L502.7 459.9L504.3 458.9L505.0 457.8L505.7 456.7Z" fill="#f2efd2" stroke="#44443f" stroke-width="1.05" stroke-linejoin="round"/>
<path d="M360.6 425.3L360.0 426.4L358.7 426.5L357.8 426.7L357.1 426.7L356.2 427.2L355.3 427.2L355.3 425.7L355.1 424.6L354.2 425.2L352.9 425.4L352.4 426.4L352.3 427.0L351.0 427.2L350.7 427.2L348.8 427.3L348.7 428.1L349.0 428.6L348.8 430.7L348.1 430.9L346.8 431.6L346.8 432.2L346.1 432.9L346.3 434.0L347.1 434.2L348.4 434.2L348.4 435.2L349.7 435.2L351.0 434.4L351.8 434.5L351.9 435.8L353.2 436.3L354.2 436.8L354.9 436.9L355.1 437.8L355.2 438.6L356.3 438.7L356.7 439.8L356.5 441.1L356.6 442.6L357.9 442.8L358.1 443.9L358.9 444.0L358.7 445.1L359.2 445.8L359.2 446.3L358.0 447.2L356.7 448.5L357.8 449.1L358.7 449.9L359.5 451.2M350.7 443.2L349.7 444.4L349.8 446.2L348.8 447.3L348.7 448.4L348.5 449.5L348.7 450.6L348.4 453.0L348.1 454.6L347.7 455.9L347.5 458.0L347.7 459.8L347.7 461.1L347.4 463.0L346.8 465.0L346.9 466.5L347.4 467.5L348.7 467.6L349.7 467.9M349.6 468.3L349.6 470.7M348.5 440.0L349.0 439.5L349.4 438.2L349.6 436.2L349.7 435.2M349.0 439.5L349.7 440.9L349.9 442.2L350.7 443.2L351.3 442.5L352.4 442.9L353.5 442.7L354.1 440.9L356.3 441.1M353.5 442.7L355.2 444.0L356.7 444.9L356.1 446.3L358.0 446.4L358.7 445.1M356.1 446.3L356.7 448.5L356.3 450.3L356.2 451.4M342.0 430.2L342.6 431.1L343.3 430.3L344.5 429.6L345.2 429.0L345.3 428.1L346.4 429.0L346.8 429.5L348.4 429.6L348.7 429.7L348.8 430.7M343.0 427.0L344.2 427.7L345.3 428.1M347.7 420.0L347.1 420.8L346.8 421.8L347.2 422.2L347.3 423.3L348.4 423.5L349.0 424.0L350.3 424.0L350.1 425.1L350.5 426.1L350.7 427.2M355.2 422.5L354.3 424.1L355.1 424.6M357.1 424.1L356.8 425.7L357.1 426.7M359.1 424.2L358.7 425.4L358.7 426.5M335.5 417.4L336.3 418.2L336.2 418.6L335.8 419.1M336.3 416.3L336.3 417.5L336.6 417.5M336.2 418.6L337.1 418.9L337.3 419.5M337.3 419.5L338.0 419.0L339.0 418.5L340.0 418.2M338.6 420.8L339.3 420.8L339.8 420.9M340.3 422.6L340.4 421.8M347.5 415.0L347.6 416.2M398.5 387.1L398.5 388.3L397.9 388.7L397.9 389.7L398.1 390.5L397.9 391.0M396.2 389.1L396.9 389.1L397.9 389.3M403.2 386.3L403.4 387.9L403.7 389.5L401.9 390.2L402.9 391.8L402.4 392.9L400.5 393.0L400.1 393.0L398.9 392.9M400.1 393.0L400.8 393.7M403.7 389.5L405.0 390.2L406.2 390.9L408.6 391.4L409.5 389.8L409.3 388.9L409.3 388.3L409.5 386.3L408.8 385.9L406.8 385.9M408.8 385.9L408.8 385.2L407.6 384.9M409.5 386.3L410.5 386.0L410.8 385.3L411.3 384.4L412.2 384.0M407.6 384.0L408.9 383.6L410.2 383.7L411.3 384.4M409.8 381.8L410.5 381.7L411.7 382.2M409.3 388.9L411.5 389.0L413.7 389.1L414.6 388.4M408.6 391.4L408.4 392.3L409.9 392.6L411.2 392.2L412.1 392.5L412.2 394.9L413.2 395.1M411.2 392.2L412.2 393.9L412.2 394.9M412.1 392.5L413.4 393.9L413.4 394.4M408.4 392.3L407.1 394.2L407.9 395.5L408.7 396.1L410.2 396.5L411.8 396.2L412.5 396.5M408.4 392.3L406.9 392.0L405.0 392.5L404.5 393.6L405.3 394.5L406.3 394.5L407.1 394.2M405.0 392.5L403.7 391.5L402.9 391.8M404.5 393.6L403.7 393.8L402.9 393.9M405.0 391.7L406.2 390.9M402.9 394.8L403.9 394.9L404.5 394.0M403.9 394.9L404.4 395.3L406.3 395.3L406.3 394.5M404.4 395.3L405.3 397.1L406.0 397.6M406.3 395.3L406.6 396.7L406.0 397.6M406.6 396.7L407.1 397.3L406.6 398.1M407.1 397.3L408.4 397.7L408.7 396.1M408.4 397.7L408.6 398.6L408.9 398.6L410.8 398.6L411.0 398.2L412.1 398.0M410.8 399.0L411.0 398.2M406.6 398.1L407.3 398.9L406.9 400.0M407.3 398.9L407.6 399.0L408.6 398.6M425.4 407.6L424.7 406.9L424.9 405.7L423.8 405.0L423.4 403.8L423.8 403.0L423.0 402.0M423.0 402.0L422.7 400.1M433.9 411.1L434.0 409.8L434.9 409.7L434.6 408.4L433.4 407.8L433.8 406.7L433.2 405.0L433.6 403.3L433.6 402.5M433.4 407.8L436.7 408.0L436.9 406.9L438.8 406.3L439.0 405.1L439.9 404.6L440.3 402.8L442.2 402.2M433.6 402.5L435.7 402.6L437.0 401.9L438.0 402.2L439.3 401.7L440.3 402.4L442.2 402.0M428.9 402.3L429.6 401.4L431.1 401.2L432.8 402.2L433.6 402.5M428.0 398.2L428.9 397.8L430.2 398.6L431.2 398.0L432.8 397.8L433.8 398.6L434.4 399.7L435.6 400.6L437.0 401.9M437.0 401.9L437.9 400.3L439.6 399.7L439.6 398.9L440.3 398.0M439.6 399.7L441.7 400.1M438.6 398.5L440.3 398.0L442.3 396.9M425.1 408.0L424.1 408.3L422.9 408.2L421.2 406.9L419.2 406.1L419.1 405.1L420.5 404.3L421.4 402.0M419.2 406.1L417.9 406.5L417.9 407.7L416.6 408.1M419.1 405.1L417.3 405.6L417.0 405.2M417.3 405.6L417.1 405.1L417.7 404.4L417.2 404.1M417.0 405.2L417.0 406.5L416.6 408.0M422.0 417.0L423.1 416.6L424.4 416.8L425.7 415.7L427.6 415.5L429.6 414.8L430.0 413.4L429.7 412.9L428.0 412.8L427.4 411.9M427.6 415.5L428.3 417.1M429.7 412.9L430.2 411.9L430.5 410.9M425.4 398.2L424.1 398.7L423.1 398.6L422.1 398.8M424.1 398.7L424.1 400.6L423.8 400.6M422.3 399.6L423.0 400.0L424.1 400.6M476.0 401.5L477.1 401.0M445.8 408.5L447.7 409.6L449.0 410.1L451.0 410.3L451.0 409.2M451.5 409.6L451.6 410.1L453.5 410.0L453.5 409.3M451.3 413.6L451.1 411.6L451.3 410.4L452.1 410.6L452.2 411.1L453.7 411.3L453.5 412.0L453.1 412.1L453.2 412.7L453.9 413.5M458.7 414.6L457.4 415.5L457.1 416.5L457.9 417.5L457.7 418.5L458.2 419.8L457.9 421.2M458.7 413.7L458.7 414.6L459.3 415.1L459.5 416.4L460.3 416.2L461.3 416.0L461.8 417.2L462.3 418.5M460.0 413.1L460.6 414.2L461.6 414.6L461.9 415.6L462.9 416.8L463.6 417.8L463.6 418.5M460.3 420.2L460.3 418.9L462.3 418.5L463.6 418.5L463.6 420.0L462.6 420.8L461.6 421.2M458.8 423.8L459.9 424.1M464.8 426.7L465.5 427.4L466.5 427.1L467.8 427.0L468.7 425.7L468.7 425.2L470.0 425.3M485.2 429.7L485.2 434.0M474.2 434.1L474.9 434.0M388.4 409.3L388.4 408.6L390.8 407.6L391.7 406.5L393.2 406.0L392.8 404.2L392.6 403.7M385.6 409.3L388.4 409.3L388.4 410.6M383.0 414.1L385.6 413.9L385.6 412.7L386.2 412.4L386.2 410.6L388.4 410.6L388.4 409.6L390.9 411.3L394.6 414.1L395.9 415.3L396.7 415.3L397.9 414.9L401.8 412.4M390.9 411.3L389.8 411.3L390.6 417.2L390.4 417.8L387.9 417.9L386.6 417.8L386.1 418.3M401.8 412.4L400.5 411.6L400.1 410.2L400.5 408.4L400.1 407.5L399.4 405.7L398.9 404.7L399.4 402.6L399.6 402.3M400.1 407.5L400.7 406.3L401.4 405.2M410.2 406.4L410.2 413.4L417.9 413.4M410.2 413.4L410.2 414.8L409.5 414.8L409.5 415.1L404.4 412.4L403.7 412.7L403.2 413.0L401.8 412.4M403.7 412.7L404.0 414.1L404.2 414.8L404.0 417.2L402.7 418.9L402.7 419.1M396.7 415.3L396.7 417.2L396.3 417.8L394.1 418.2L394.6 419.2L395.5 420.0L396.3 420.4M396.3 420.4L396.6 419.2L398.5 419.5L400.5 419.3L402.7 419.1M402.7 419.1L403.4 419.8L402.7 421.5L401.8 422.8L400.8 423.6L399.7 424.8L399.6 425.0M403.4 419.8L404.0 421.5L403.1 421.6L404.0 423.1M409.5 415.1L409.5 417.7L408.6 418.9L408.2 419.7L408.8 420.8L406.3 422.2L404.0 423.1M408.8 420.8L409.5 422.3L411.5 421.8L413.4 421.5L415.4 421.2L416.0 421.8M409.5 422.3L410.2 423.1L411.8 424.8M418.9 416.2L417.6 418.2L417.4 419.8L416.0 421.8L415.4 422.8L416.6 424.4M416.6 424.4L417.3 425.1L419.6 425.7L420.5 425.4L421.2 425.3L423.1 424.8L425.1 422.8L424.4 422.8L421.8 421.8L421.8 420.5M417.6 418.5L419.9 418.5L421.4 419.8M420.5 425.4L420.5 429.1M416.6 424.4L416.0 425.3L416.6 427.0L416.0 428.0L416.0 428.6L418.3 429.9L419.4 431.0M416.0 428.6L413.4 428.6L413.2 427.7L414.1 426.5L414.1 425.6L416.0 425.3M406.0 425.7L406.0 424.8L408.6 425.3L410.2 424.6L411.8 424.8L413.4 425.1L414.1 425.6M406.0 425.7L405.5 428.0L404.4 429.6L404.4 430.9L403.4 431.2L402.4 431.0L402.0 431.8M402.0 431.9L404.7 431.8L405.0 432.9L406.6 432.9L407.3 432.5L408.2 432.9L408.2 435.2L409.5 435.2L409.5 436.2L408.2 436.5L408.2 438.6L409.2 439.6M409.5 435.2L410.4 435.4L411.8 436.0L412.8 436.7L413.3 436.0L412.4 435.2L412.5 434.2L413.9 433.3M413.9 433.3L413.0 431.9L413.0 430.8L412.8 429.7L413.2 428.8L413.2 427.7M413.0 430.8L413.7 429.9L413.7 428.7M413.9 433.3L415.0 434.0L416.0 434.2L416.3 435.5L418.3 435.6L420.2 434.8M416.3 435.5L417.2 437.5L416.8 439.2L416.2 438.2L415.4 437.1L413.6 437.8L413.7 438.2M415.4 437.1L415.4 435.2L416.0 434.2M413.7 438.2L412.6 438.8L411.5 439.8L410.4 439.7M413.7 438.2L415.4 439.0L415.2 440.9L415.0 442.1L414.3 442.9L413.0 442.7L411.8 441.9L410.4 439.7M401.6 439.3L403.1 439.4L406.0 439.4L407.6 439.8L409.2 439.6L410.4 439.7M407.6 440.0L407.6 442.6L406.9 442.6L406.9 444.6L406.9 447.2L404.7 447.3M406.9 444.6L408.2 445.8L410.5 445.2L411.5 443.8L413.0 442.7M414.3 442.9L414.7 445.1L415.3 446.0M411.6 448.1L412.4 447.4L413.0 448.0L412.2 448.7L411.6 448.1M383.2 417.2L384.9 417.0L386.1 418.3L386.6 419.9L385.1 419.8L383.2 419.9M383.1 419.1L384.9 419.1L384.9 419.4L383.1 419.4M384.3 420.8L385.1 420.4L385.1 419.8M386.6 419.9L388.5 420.5L388.8 421.4L388.5 423.1L389.1 425.2M385.5 422.2L387.2 422.5L386.6 423.5M387.2 422.5L388.5 423.1M388.8 421.4L390.4 421.2L392.2 420.8L394.0 420.8L394.6 420.8L395.5 420.0M392.1 424.7L392.2 421.8L392.2 420.8M394.8 424.0L394.3 422.5L394.0 420.8M395.2 423.9L395.0 422.2L394.6 420.8M395.7 423.9L395.8 422.2L396.3 420.4M394.1 418.2L392.7 418.5L391.2 419.4L390.4 420.5L390.4 421.2M404.0 423.1L403.4 424.4L404.4 426.7L402.6 426.6L401.3 426.6L400.3 426.5M402.6 426.6L403.3 428.3L403.3 429.3L402.1 429.5L401.2 430.6M404.4 426.7L406.0 425.7M400.3 427.4L401.3 427.4L401.3 426.6M390.2 403.2L391.4 403.6L392.7 403.7L394.0 403.2L395.0 402.6L395.9 402.4L397.2 402.4L398.5 402.2L399.8 402.0L400.5 402.0L401.1 402.2L400.8 403.4L400.5 404.6L401.1 405.2L402.4 405.4L403.9 405.9L405.0 406.9L406.3 407.4L406.9 406.5L406.9 405.6L408.9 405.7L410.2 406.4L411.5 406.7L412.8 407.0L414.1 406.5L414.9 406.7L416.2 406.7L416.6 408.0L416.3 409.1L415.7 409.0L415.1 407.6L415.7 409.3L416.3 410.6L417.0 412.0L417.9 413.4L418.1 415.1L418.9 416.2L419.6 417.8L420.7 418.5L422.0 419.8L421.8 420.5L422.8 421.2L424.4 420.7L425.7 420.6L427.1 420.3L426.9 421.5L426.0 423.1L425.7 424.1L424.7 425.3L423.8 426.4L422.1 427.7L420.9 429.2L419.9 429.9L419.4 431.2L419.6 432.5L419.6 433.8L420.2 435.0L420.3 437.5L419.6 438.8L417.9 439.7L416.6 441.1L417.0 442.6L417.0 444.0L415.4 445.1L415.2 446.2L415.0 447.3L414.1 448.4L413.4 449.5L412.4 450.5L410.8 451.3L408.9 451.4L406.9 452.0L406.0 451.6L405.8 450.3L405.0 448.0L403.8 445.8L403.4 443.3L402.7 441.9L402.4 440.9L401.6 439.3L401.9 437.5L402.9 435.8L402.5 433.8L402.0 431.9L401.8 431.1L400.3 429.6L399.8 428.5L400.1 427.4L400.3 426.1L399.7 425.1L398.5 425.2L397.6 424.8L396.8 423.9L395.6 423.9L394.6 424.2L392.7 424.9L391.1 424.6L389.1 425.2L388.2 424.8L386.9 423.7L385.9 423.1L385.5 422.2L384.4 420.8L383.2 419.8L382.7 418.4L383.3 417.5L383.5 415.5L383.0 414.1L383.6 412.2L384.4 410.9L385.6 409.3L386.6 408.7L387.5 408.0L387.7 406.5L388.5 405.1L389.6 404.4L390.2 403.2" fill="none" stroke="#44443f" stroke-width="0.65" stroke-linejoin="round"/>
</g></svg>
<svg class="l" width="680" height="560" viewBox="0 0 680 560">
<rect x="285.2" y="513.2" width="125.7" height="10.6" fill="#fff" fill-opacity="0.78"/>
</svg>
<div class="t" style="font-size:8.40px;color:#4d4d4d;transform:translate(287.20px,515.30px) rotate(0.04deg) scaleX(0.9203);">© 2023 Mapbox  © OpenStreetMap</div>
</section>
<footer id="toolbar" aria-label="Toolbar">
<svg class="l" width="680" height="560" viewBox="0 0 680 560">
<rect x="1.40" y="533.00" width="665.60" height="18.00" fill="#f5f5f5"/>
<rect x="1.40" y="550.90" width="665.60" height="0.80" fill="#e4e4e4"/>
<g transform="translate(12 535.8)"><g stroke="#777" stroke-width="0.8" fill="none"><path d="M6 4.3V7.7M4.3 6H7.7"/><path d="M6 0.6V2.6M5 1.6H7"/><path d="M6 9.4V11.4M5 10.4H7"/><path d="M1.6 5V7M0.6 6H2.6"/><path d="M10.4 5V7M9.4 6H11.4"/><path d="M2.6 2V3.6M1.8 2.8H3.4"/><path d="M9.4 2V3.6M8.6 2.8H10.2"/><path d="M2.6 8.4V10M1.8 9.2H3.4"/><path d="M9.4 8.4V10M8.6 9.2H10.2"/></g></g>
</svg>
<div class="t" style="font-size:10.2px;color:#444;letter-spacing:3.55px;transform:translate(27.7px,537.30px) rotate(0.04deg)">+ableau</div>
<svg class="l" width="680" height="560" viewBox="0 0 680 560">
<g transform="translate(482.90 535.80)"><g fill="none" stroke="#c9c9c9" stroke-width="0.9" stroke-linecap="round" stroke-linejoin="round"><path d="M10 6H2M5 3L2 6L5 9"/></g></g>
<g transform="translate(510.00 535.80)"><g fill="none" stroke="#c9c9c9" stroke-width="0.9" stroke-linecap="round" stroke-linejoin="round"><path d="M2 6H10M7 3L10 6L7 9"/></g></g>
<g transform="translate(533.00 535.80)"><g fill="none" stroke="#c9c9c9" stroke-width="0.9" stroke-linecap="round" stroke-linejoin="round"><path d="M9.5 4H2.5V8.5H10.5V5.5M8 2.5L9.8 4L8 5.5"/></g></g>
<g transform="translate(553.4 540.6)"><path d="M0.8 0.6H5.2L3 3.2Z" fill="#bdbdbd"/></g>
<g transform="translate(568.50 535.80)"><g fill="none" stroke="#b5b5b5" stroke-width="0.9" stroke-linecap="round" stroke-linejoin="round"><path d="M1.5 2V10M11 6H4M6.5 3.5L4 6L6.5 8.5"/></g></g>
<g transform="translate(594.80 535.80)"><g fill="none" stroke="#666" stroke-width="0.9" stroke-linecap="round" stroke-linejoin="round"><circle cx="3" cy="6" r="1.6"/><circle cx="9" cy="2.8" r="1.6"/><circle cx="9" cy="9.2" r="1.6"/><path d="M4.4 5.2L7.6 3.5M4.4 6.8L7.6 8.5"/></g></g>
<g transform="translate(620.90 535.80)"><g fill="none" stroke="#666" stroke-width="0.9" stroke-linecap="round" stroke-linejoin="round"><path d="M4 8H1.5V1.5H10.5V8H8M6 4V10.5M4.3 8.8L6 10.5L7.7 8.8"/></g></g>
<g transform="translate(648.00 535.80)"><g fill="none" stroke="#666" stroke-width="0.9" stroke-linecap="round" stroke-linejoin="round"><path d="M1 3.5V1.5H3.5M8.5 1.5H11V3.5M11 8.5V10.5H8.5M3.5 10.5H1V8.5"/><rect x="3" y="3.6" width="6" height="4.8"/></g></g>
</svg>
</footer>
</div>
</body>
</html>
